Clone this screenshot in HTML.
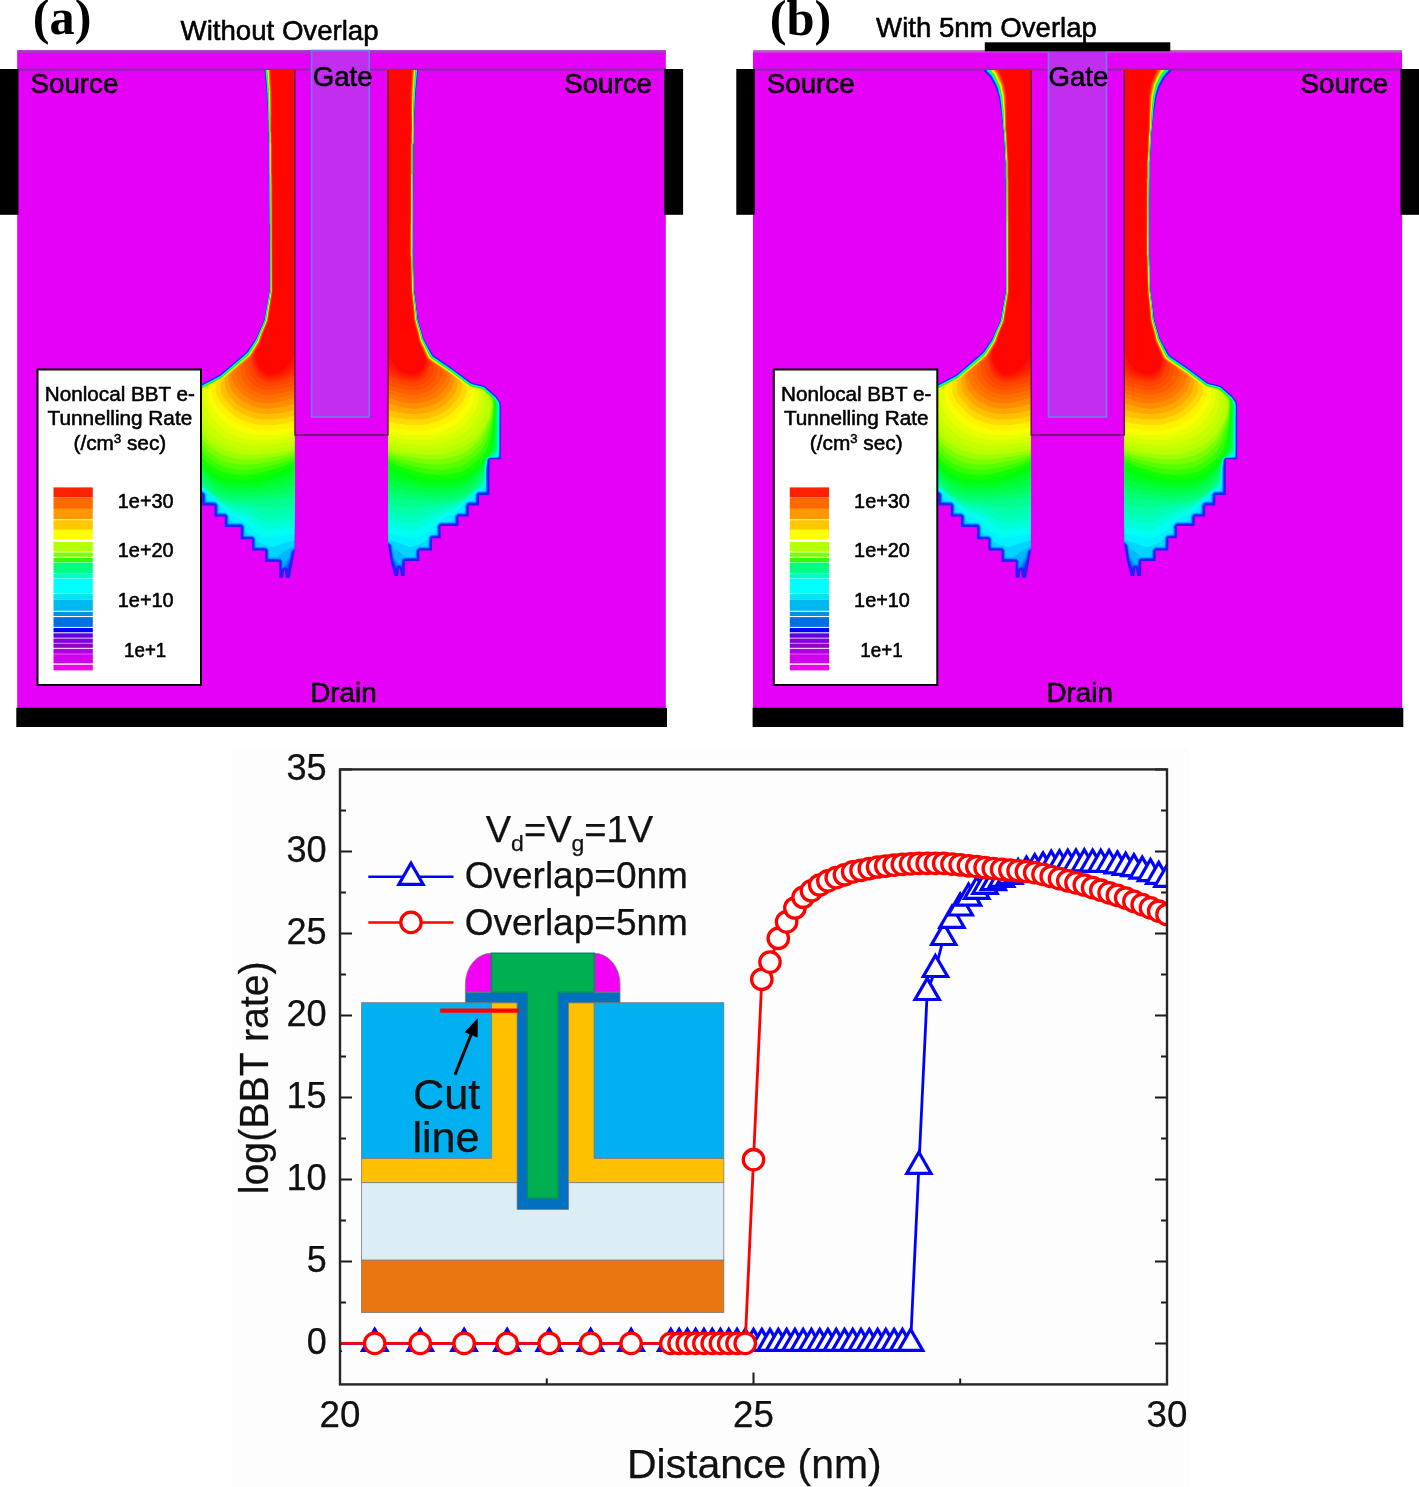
<!DOCTYPE html>
<html lang="en"><head><meta charset="utf-8"><title>BBT tunnelling rate</title>
<style>html,body{margin:0;padding:0;background:#fff}svg{display:block}</style></head><body>
<svg width="1419" height="1487" viewBox="0 0 1419 1487">
<rect width="1419" height="1487" fill="#fff"/>
<defs>
<linearGradient id="cbar" x1="0" y1="0" x2="0" y2="1">
<stop offset="0" stop-color="#FF1A00"/>
<stop offset="0.06" stop-color="#FF3000"/>
<stop offset="0.14" stop-color="#FF8000"/>
<stop offset="0.22" stop-color="#FFC000"/>
<stop offset="0.28" stop-color="#FFF000"/>
<stop offset="0.33" stop-color="#D8FF00"/>
<stop offset="0.38" stop-color="#80FF00"/>
<stop offset="0.43" stop-color="#20FF20"/>
<stop offset="0.48" stop-color="#00FF80"/>
<stop offset="0.55" stop-color="#00FFD8"/>
<stop offset="0.62" stop-color="#00F0FF"/>
<stop offset="0.68" stop-color="#00B0F0"/>
<stop offset="0.73" stop-color="#1080E0"/>
<stop offset="0.78" stop-color="#0020FF"/>
<stop offset="0.82" stop-color="#6010E0"/>
<stop offset="0.87" stop-color="#A010D0"/>
<stop offset="0.92" stop-color="#D020F0"/>
<stop offset="0.97" stop-color="#F020F8"/>
<stop offset="1" stop-color="#FF40E0"/>
</linearGradient>
<pattern id="dither" width="4" height="4" patternUnits="userSpaceOnUse"><rect width="4" height="4" fill="#C62CF2"/><rect width="2" height="2" fill="#BE30EE"/><rect x="2" y="2" width="2" height="2" fill="#BE30EE"/></pattern>
<g id="plumeaR">
<path fill="#2020FF" d="M387.8,70.4L418,70.4L416,90L414.3,115L413.5,150L412.5,250L414,290L418,320L423.6,338.8L433,355L452.8,368.8L471.6,382.8L484.8,386L496,396L500.3,402L500.8,406L500.8,459.3L489.5,459.3L489.5,495L479,495L479,505.4L468.8,505.4L468.8,516.6L458.4,516.6L458.4,526L440.6,526L440.6,538.3L432,538.3L432,550.5L419.3,550.5L419.3,560.9L404.8,560.9L404.8,576L401,576L399.5,567L398,576L394.5,576L390.7,560.9L388.2,545.8Z"/>
<path fill="#0857FF" d="M417.3,70.3L387.7,70.3L388.3,543.7L389.3,544L390.7,546L392.7,559.7L394,564.3L396,569L397,567L398.3,566L400.3,566L401.7,567.3L402.3,567.3L402.7,560.7L403.7,559.3L416.7,558.7L417.3,557.7L417.3,550.3L418.3,549L419,548.7L428.7,548.7L429.7,548L430,547.3L430,538L431.7,536.3L437.3,536.3L438.3,535.7L438.7,535L438.7,525.7L439.7,524.3L440.3,524L455,524L455.7,523.7L456.3,522.7L456.3,516.3L457.3,515L458,514.7L465.3,514.7L466.3,514L467,504.3L468.3,503.3L475.7,503.3L476.3,503L477,502L477,494.7L478,493.3L478.7,493L486,493L487,492.3L487.3,491.7L487.3,466.7L487.7,466.3L488,459.7L489.3,458.3L498.3,458.3L499.3,458L499.7,457.3L500,405.7L499.3,402L495.7,397L484.3,387L473.7,384.3L470.3,383L452.7,369.7L435,357.7L431.7,354.7L423,338.3L417.7,319.7L415.7,301.3L414,291L413,255.3L412.7,255L413.3,144.3L413.7,144L414.7,103L415,102.7L415.3,92.3L415.7,92L415.7,88L416,87.7Z"/>
<path fill="#0578FF" d="M417.3,70.3L387.7,70.3L388.3,543.3L389.7,543.7L391,545.7L393,558.7L394.7,563.3L396.3,566L398.7,565.3L402,566L402.3,560L404.7,558.3L416.3,558.3L416.7,558L416.7,551L418,548.7L419.7,548L429,548L429.3,547.7L429.7,537.7L430.7,536.3L432.3,535.7L437.7,535.7L438,535.3L438,526.3L439.3,524L441,523.3L455.3,523.3L455.7,523L455.7,517L457,514.7L458.7,514L465.7,514L466,513.7L466,505.7L466.7,504L469,502.7L476,502.7L476.3,502.3L476.3,495.3L477.7,493L479.3,492.3L486.3,492.3L486.7,492L486.7,469.7L487.7,459.7L489.3,458L498.3,458L499,457.7L499.7,451.3L499.7,405.3L499,402L495.3,397L484.3,387.3L483,386.7L472.7,384.3L470.3,383.3L452.7,370L432.3,356L423,339L417.7,320.7L414,291.3L413,255.3L412.7,255L413,175L413.3,174.7L413.3,144.3L413.7,144L414,120.3L414.3,120L414,112.7L414.3,112.3L414.7,101.7L415,101.3L415.3,88.7Z"/>
<path fill="#0299FF" d="M417,70.3L387.7,70.3L388.3,542.7L389.3,543L391.3,545.3L393,556.3L394.7,561L397.3,565L400.7,565.3L401.7,565L401.7,560.7L402.3,559.3L404.3,558L416,558L416.3,557.7L416.3,550.7L416.7,549.7L418.3,548L419.3,547.7L428.7,547.7L429,547.3L429.3,537.3L431,535.7L432,535.3L437.3,535.3L437.7,535L437.7,526L438,525L439.7,523.3L440.7,523L455,523L455.3,522.7L455.3,516.7L455.7,515.7L457.3,514L465.3,513.7L465.7,513.3L466,504.3L467.7,502.7L468.7,502.3L475.7,502.3L476,502L476,495L476.3,494L478,492.3L486,492L486.3,491.7L486.3,469.7L487.7,459L489.3,457.7L498.3,457.7L499,457L499.3,455.3L499.3,404.7L498.7,402L495.3,397.3L484,387.3L471,384L453.7,371L436,359L431.3,355L422.3,337.7L422.3,336.3L417.3,319.7L414,292L413,256.3L412.7,256L413,174L413.3,173.7L413.3,143.3L413.7,143L413.7,131.7L414,131.3L413.7,121.7L414,121.3L414,112L414.3,111.7L414.3,102.7L414.7,102.3L415,92L415.3,91.7L415.7,82.7Z"/>
<path fill="#00B8FF" d="M416.7,70.3L387.7,70.3L388.3,542.3L390,543L391.7,545.3L393,553L394.3,557.7L397.7,563L399.7,564.3L401,564.3L401.3,560L402.7,558.3L404,557.7L415.3,557.7L416,557L416,550.3L417.7,548L419.3,547.3L428.3,547.3L428.7,547L429,537.3L430.3,535.7L432,535L437,535L437.3,534.7L437.3,526.3L438.7,523.7L441,522.7L454.7,522.7L455,522.3L455,516.7L455.7,515L456.7,514L458.3,513.3L465,513.3L465.3,513L465.3,505.7L466.3,503.3L469,502L475.3,502L475.7,501.7L476,494L478,492L485.7,491.7L486,491.3L486,470.3L487.3,459.3L489,457.7L498.3,457.3L499,456L499.3,406L498.7,402.3L495.3,397.7L483.7,387.3L470.7,384L452,370L434.3,358L431.3,355.3L422.7,339L417.3,320.3L415.3,301.7L413.7,290.7L412.7,255L412.3,254.7L413,144.7L413.3,144.3L413.3,133L413.7,132.7L414,107.7L414.3,107.3L414.3,102L415,96L414.7,93.3L416.7,74Z"/>
<path fill="#00D5FF" d="M387.7,70.3L388.3,542L390.3,542.7L391.7,544L393.3,548.7L399.3,552L403.3,555.7L405,556.7L410,557L413.3,556.7L415,555.7L415.7,549.7L417.3,547.7L418.7,547L423,547L428,546.3L428.7,537L430.7,535L436.3,534.7L437,534L437,526L437.7,524.3L439,523L440.7,522.3L454,522.3L454.7,521.7L454.7,516.7L455.3,515L456.7,513.7L458.3,513L464.3,513L465,512.3L465,505.3L465.7,503.7L467,502.3L468.7,501.7L475,501.7L475.3,501.3L475.3,495L476,493.3L477.3,492L479,491.3L485.3,491.3L485.7,491L486,467.7L487,459.7L487.7,458.3L489.3,457.3L498,457L498.7,456L498.7,451.3L499,451L499,405L498.3,402L494.7,397L483.3,387.3L473,385L470.3,384L452.7,370.7L432.7,357L431.3,355.7L422,337.3L417,319L414.7,297L413.7,291.3L412.7,255.3L412.3,255L412.7,175L413,174.7L413,144.3L413.3,144L413.7,120.3L414,120L413.7,112.7L414.3,106.7L414.7,92.3L415,92L415,88L415.3,87.7L416.7,70.3Z"/>
<path fill="#00F1FF" d="M387.7,70.3L388.3,540.7L395.7,542L409.3,547L411.7,547L421,544L427.3,539.7L428,537L429.7,535L432,534L435,533.7L436.3,531.7L436.7,525.3L438.7,522.7L440.3,522L449.3,521.7L453,520.3L454,519L454.3,516L456.3,513.3L457.7,512.7L462.3,512.3L464,511.3L464.7,508L464.7,504.7L466.7,502L468.3,501.3L474.3,500.7L475,494.3L476.7,492L478.7,491L483.3,491L485,490.3L485.7,485.3L485.7,468.7L487,459.3L489,457.3L496.3,457L497.7,456.7L498.3,455.7L499,406.7L498.3,402.3L495,397.7L483.7,387.7L470.7,384.3L452.3,370.7L432,356.7L423.3,341L422,337.7L421.7,335.3L417,319.7L416.3,311.7L415,303.7L413.7,291.7L412.7,256L412.3,255.7L412.7,174.3L413,174L413,143.7L413.3,143.3L413.3,132L413.7,131.7L413.7,112L414,111.7L414,102.7L414.3,102.3L414.3,97L415,91.3L415,85.7L416.7,70.3Z"/>
<path fill="#00FFF2" d="M387.7,70.3L388.3,534L402.7,536.3L406.3,537.3L414.7,537.7L418.7,537L426,533L429.7,530.3L438.3,521.7L446.3,517L454.7,513.3L459.7,509L465,502.7L468,500.7L476.7,491.3L479,490.3L482.3,489.7L484.3,488.3L485.3,484.3L485.3,469.3L486.7,459.7L487.3,458.3L489.3,457L493.3,457L497.3,456L498.3,453L498.7,405L498.3,403L495.3,398.3L484.3,388.3L482.3,387.3L470.3,384.3L451.7,370.3L432.7,357.3L431,355.7L422,338L421.7,335.7L417,320.3L416.3,312.3L414.3,298.7L414.3,296L413.7,293L413.7,286.3L413.3,286L413.3,276.3L413,276L413,266.3L412.7,266L412.7,256.3L412.3,256L412.7,174L413,173.7L413,143.3L413.3,143L413.3,131.7L413.7,131.3L413.3,121.3L413.7,121L413.7,107.7L414,107.3L414,102L414.7,96L414.3,93L414.7,92.7L416.3,70.3Z"/>
<path fill="#00FFD9" d="M387.7,70.3L388.3,527L399.3,528.3L407.7,530L413,530.3L416.3,530L419,529L426.7,525L432.3,520.3L436.7,517.7L444.3,514L453.7,510.7L458.7,507L464.3,501.7L466,500.7L475.7,491.3L479,489.3L482,488.3L483.7,487L484.7,485L485,482.3L485,471L486.7,459.3L489,457L496,456L497,455L498,452.3L498.3,449.7L498.3,404L497.7,402L494.7,397.7L483.7,388L472.7,385.3L469.7,384L452.3,371L432,357L430.7,355.3L424.7,344L421.7,337.3L421.7,336L416.7,319L415.7,307.3L413.7,293.7L413.3,285L413,284.7L412.3,255L412,254.7L412.3,175.3L412.7,175L412.7,144.7L413,144.3L413.3,120.7L413.7,120.3L413.7,114L413.3,113.3L413.7,113L414,101L414.3,100.7L414,100.3L414.3,92.3L414.7,92L414.7,88L415,87.7L416.3,70.3Z"/>
<path fill="#00FFBF" d="M387.7,70.3L388.3,519.7L390.7,519.7L407,522.3L414,522.7L422,520L427.7,516.7L435.3,513.3L445.3,510L452,508.3L457.3,505.3L466,499.3L476.3,490L480.3,488L482.7,486L484,483.7L484.7,480.3L485,468.7L486.3,459.7L487,458.3L488.7,457L493.3,456.3L496,455L497.7,451.7L498,449.7L498.3,405.7L498,403L495,398.3L484.3,388.7L481.3,387.3L472.3,385.3L470,384.3L452.7,371.3L432.7,357.7L430.7,355.7L421.7,337.7L421.7,336.3L417,321L415.3,308.3L415,302.3L413.3,291L412.3,255.3L412,255L412.3,175L412.7,174.7L412.7,144.3L413,144L413.3,120.3L413.7,120L413.3,112.7L414,106.3L413.7,103L414,102.7L414.3,92L415,87L415,82L416.3,70.3Z"/>
<path fill="#00FFA6" d="M387.7,70.3L388.3,512L406,514.7L412.3,515L419,513.7L424,511.7L434,509L449.7,506L455.7,503.7L461.7,500.7L469,496L475.3,490L479.3,487.3L482,484.7L484.3,478.7L484.7,469.3L486.3,459.3L487.7,457.3L489,456.7L492,456.3L495,454.7L496.3,453.3L497.3,451L497.7,449L497.7,428L498,427.7L498,405L497.7,402.7L494.3,397.7L483.7,388.3L471.7,385.3L469.7,384.3L452,371L432,357.3L429.3,353.3L421.7,338L420.7,333L417,321.3L414.7,303.3L414.3,297.3L413.3,291.3L412.3,255.7L412,255.3L412.3,174.7L412.7,174.3L412.7,144L413,143.7L413,132.3L413.3,132L413.3,112L413.7,111.7L414.3,89L415.7,77.7L416,70.3Z"/>
<path fill="#00FF8D" d="M387.7,70.3L388.3,504.7L404.3,507L411.3,507.3L411.7,507L419.3,506.7L436,504.3L442,504L444,503.3L447.7,503.3L455.7,501.3L462,499L468.7,495.3L480.3,484.7L482.7,480.7L484.3,475.7L484.3,470L486,459.7L488,457L491,456.3L494.7,454L496,452.7L497,450.3L497.3,428L497.7,427.7L497.7,404.3L497.3,402.7L494.7,398.3L484.3,389L481.7,387.7L471.3,385.3L470,384.7L451.3,370.7L432.3,357.7L430.7,356L421.7,338.3L420.7,333.3L416.7,320.3L416,312L414,298.3L414,295.3L413.3,292L413.3,286L413,285.7L413,276L412.7,275.7L412.7,266L412.3,265.7L412.3,256L412,255.7L412.3,174.3L412.7,174L412.7,143.7L413,143.3L413.3,111.7L413.7,111.3L413.3,107.7L414,101.7L414,92.7L414.3,92.3L414.3,88.3L414.7,88L416,70.3Z"/>
<path fill="#00FF73" d="M387.7,70.3L388.3,497.3L407.3,500L414.3,500L418.3,500.7L441,500.7L441.3,500.3L450.7,500L458.3,498.7L463,497L468.3,494.3L477.7,486L480.3,482.3L483.7,475.7L484.7,466L485.7,460.7L486.7,458L487.7,457L491.3,455.7L494.3,453.3L496.3,450.3L496.7,443.3L497,443L497.3,403.7L496.7,401.7L494,397.7L483.3,388.3L470.3,385L452,371.3L431.7,357.3L430.3,355.7L421.7,338.7L420.7,333.7L419.7,331.3L416.3,318.7L415.3,307L413.3,293L412.3,256.3L412,256L412.3,174L412.7,173.7L412.7,143.3L413,143L413,131.7L413.3,131.3L413,121L413.3,120.7L413.3,107.3L414,100.7L413.7,97.7L414,97.3L414.3,87.7L416,70.3Z"/>
<path fill="#00FF5A" d="M387.7,70.3L388.3,491L396,493L402,493.7L406,494.7L418.3,495.7L420.7,496.3L440.3,496.7L440.7,496.3L448,496.3L455.3,495.3L461.7,493.7L467,491.3L476,483.7L480.7,477.3L483,473L485.7,459.7L486.3,458.3L488.3,456.3L490.3,455.7L494.3,452L495.3,450.3L496,447.3L496.3,434.7L496.7,434.3L496.7,418.7L497,418.3L496.7,402.3L494.3,398.3L484,389L482,388L471.7,385.7L469.7,384.7L452.3,371.7L432.3,358L430,355.3L421.3,337.7L420.7,334L416.7,321L414.7,302L413.3,293.7L413,284.7L412.7,284.3L412,254.7L411.7,254.3L412,175.7L412.3,175.3L412.3,145L412.7,144.7L413,120.7L413.3,120.3L413,113L413.7,106.7L413.7,97.3L414,97L414.3,86.7L416,70.3Z"/>
<path fill="#00FF40" d="M387.7,70.3L388.3,485L398.3,487.7L408,489.3L409.7,490L415,490.3L421,491.7L431,492L431.3,492.3L445.7,492.3L454.3,491.3L460,490L465,488L471.7,483.3L477,478L481,472.3L483.3,467.3L486,458.3L491,454L494,450L494.7,447.7L495.7,439L496.3,403L493.7,397.7L483.3,388.7L471.3,385.7L469.3,384.7L451.7,371.3L431.3,357.3L429,353.7L421.3,338L420.3,333L416.3,319.7L415.7,311.3L415,308.7L414.7,302.3L413,291L412,255.3L411.7,255L412,175L412.3,174.7L412.3,144.3L412.7,144L413,120.3L413.3,120L413,112.3L413.3,112L414,89L414.3,88.7L415.7,70.3Z"/>
<path fill="#00FF26" d="M387.7,70.3L388.3,478.3L400.3,482.3L403,482.7L411,485L416.3,485.7L421.7,487L431.7,488L437,488L437.3,488.3L453.3,487.3L459.3,486L463.7,484.3L469.7,480.7L473.3,477.7L479,471.3L484.3,462.7L486,458L489,455.3L493,449L494.3,441.7L494.7,434L495,433.7L495.3,419.3L495.7,419L495.7,402.3L493.7,398L483.7,389L482.3,388.3L472,386L469.7,385L451,371L432,358L430.3,356.3L421.3,338.3L420.3,333.3L416.3,320L416.3,317.3L414.3,303.3L414.3,300.3L413,291.3L412,255.7L411.7,255.3L412,174.7L412.3,174.3L412.3,144L412.7,143.7L413,119.7L413.3,119.3L413,118.7L413,112L413.3,111.7L413.3,102L414,95.7L413.7,92.7L414,92.3L414,88.3L414.3,88L415.7,70.3Z"/>
<path fill="#00FF0D" d="M387.7,70.3L388.3,471.3L402,477L405.7,477.7L413.3,480.3L416.3,480.7L424,482.7L437,484L445,484L445.3,483.7L452.3,483.3L458.7,482L465.3,479.3L472,475L479.3,467.7L484.7,460.7L485.7,458L488.7,454.7L492,447.7L493.7,438.7L493.7,434.3L494.3,431.7L494.3,426.3L494.7,426L494.7,419.3L495,419L495,408.3L495.3,408L495,401.3L493.7,398.3L484.3,389.7L482,388.3L470,385.3L451.3,371.3L431.3,357.7L430,356L421.3,338.7L420.3,333.7L418,326.7L416,318.3L415.7,312.3L413,291.7L412,255.7L411.7,255.3L412,174.7L412.3,174.3L412.3,144L412.7,143.7L413,111.3L413.3,111L413,107.7L413.7,101.3L413.3,99L413.7,92.3L414,92L414.7,78.7L415.7,70.3Z"/>
<path fill="#12FF00" d="M387.7,70.3L388.3,464.7L403.3,471.7L407.3,472.7L416,476L422.7,477.3L423.7,478L431.3,479.3L434.7,479.3L438.7,480L451.3,479.3L461.7,477L471.3,472L476.7,467.7L480.3,464L481.7,462L483.7,460.3L487.3,455L491,446L492.7,437.7L492.7,434L493.3,431.7L493.3,427L494.3,419L494.3,408.7L494.7,408.3L494.3,400.7L493,397.7L482.7,388.7L472.3,386.3L469.3,385L452,372L431.7,358L429.7,355.7L421,337.7L420,332.7L419,330.3L416,319L415,307L413.7,298.7L413,292L413,286L412.7,285.7L412.7,276L412.3,275.7L412.3,266L412,265.7L412,256L411.7,255.7L412,174.3L412.3,174L412.3,143.7L412.7,143.3L412.7,132L413,131.7L413,122.3L412.7,121.3L413,121L413.3,97.3L413.7,97L414,85.7L415.3,74L415.3,70.3Z"/>
<path fill="#35FF00" d="M387.7,70.3L388.3,461.3L391.3,462.3L398,465.7L405.7,468.3L413.7,470.3L416.7,471.7L418.3,471.7L426,473.7L439,475L451.7,474L461,471.7L468.3,468L477,461.3L481.3,457L484.7,452.7L487.7,446.3L490.7,436.7L491,433L492,430L492,427L492.7,425L493.7,416L493.7,409.7L494.3,406.3L493.7,399.7L492.7,397.7L483,389L472,386.3L469,385L451.3,371.7L431,357.7L427.3,351.3L421,338L420,333L419,330.7L416,319.3L415,307.7L413,293.3L412,256.7L411.7,256.3L412,173.7L412.3,173.3L412.3,143L412.7,142.7L412.7,131.3L413,131L413,124L412.7,123.7L413,114.3L412.7,112.7L413.3,106.3L413,102.7L413.7,96.7L413.7,88.7L414,88.3L415.3,70.3Z"/>
<path fill="#58FF00" d="M387.7,70.3L388.3,458.3L392,459.3L398,462L405.7,464.3L410,465L416.7,467L423.3,468.3L434.3,469.7L443,469.7L449,469L457.7,467L466,463.3L474.7,457L480,452L481.7,449.7L485.7,442.3L487.7,437.3L491.3,424L492.7,416.7L493,410.3L493.7,407.3L493.3,401L492.3,397.7L483.7,389.7L481.7,388.7L472.7,386.7L469.3,385.3L451.7,372L431.7,358.3L430,356.7L421,338.3L420,333.3L416.3,321.3L414.7,308.7L414.7,305.3L412.7,290.7L411.7,254.7L411.3,254.3L411.7,175.7L412,175.3L412,145L412.3,144.7L412.7,120.3L413,120L412.7,112.3L413,112L413,102L413.7,95.7L413.3,92.7L413.7,92.3L413.7,88L414,87.7L414.7,75L415.3,70.3Z"/>
<path fill="#7BFF00" d="M387.7,70.3L388.3,455.3L405.3,460.3L426,464L441,464.7L443.7,464L448.3,463.7L456.7,461.7L463.7,458.7L472.7,452.7L479.3,446L483,440.3L486,434.3L491,419.7L493,407.7L492.7,400.3L491.7,397.3L483,389.3L469.7,385.7L452.3,372.7L431,358L429.7,356.3L421,338.7L420,333.7L416.3,321.7L414.7,309L414,300L412.7,291L411.7,255.3L411.3,255L411.7,175L412,174.7L412,144.3L412.3,144L412.7,120L413,119.7L412.7,112L413,111.7L413.3,92L413.7,91.7L414,82.3L415.3,70.3Z"/>
<path fill="#9EFF00" d="M387.7,70.3L388.3,452.3L402.7,456L409,456.7L411.3,457.3L414.3,457.3L420.7,458.7L423.3,458.7L426.3,459.3L434.7,459.3L435,459.7L441.3,459.3L449.7,458L459.3,455L464.7,452.3L470.3,448.7L477.7,442L483.7,433.3L490,419L492,409.7L492.3,402.7L491,397L482.7,389.3L471.7,386.7L469.3,385.7L451.7,372.3L431.7,358.7L429.7,356.7L421,339L419.7,332.7L418.7,330.3L415.7,318.7L415.7,315.3L412.7,291.3L411.7,255.7L411.3,255.3L411.7,174.7L412,174.3L412,144L412.3,143.7L412.7,111L413,110.7L412.7,107.3L413,107L413.7,85.3L414,85L415,70.3Z"/>
<path fill="#B8FF00" d="M387.7,70.3L388.3,449.3L397.7,451.7L406.7,453L415.3,453.3L417.7,454L421.3,454L425.3,454.7L438,454.7L448,453L452.3,451.3L457,450.3L463.7,447.3L473.3,441L478.7,435.7L481,432.7L487.3,421.3L489,417.7L491,409.3L491.3,402.3L490,396.7L482.7,389.7L469.7,386L451,372L431,358.3L429.3,356.3L420.7,338.3L419.7,333L416,321L414.7,307L413.7,301.3L412.7,291.7L412.7,286L412.3,285.7L412.3,276L412,275.7L412,266L411.7,265.7L411.7,256L411.3,255.7L411.7,174.3L412,174L412,143.7L412.3,143.3L412.3,132L412.7,131.7L412.7,106.7L413,106.3L412.7,103L413.3,96.3L413.3,88.3L413.7,88L415,70.3Z"/>
<path fill="#C8FF00" d="M387.7,70.3L388,426.7L388.3,427L388.3,445L391.3,446L394.7,446.3L400,447.7L407.7,448.7L417.3,449L427,450L436,449.7L446.7,447.7L455,445L461.3,442L470.3,436L474.3,432L478,427.3L484.3,416.3L487.3,406.3L487.3,399.7L486.3,394L482.7,390L469.3,386L451.7,372.7L431.7,359L429.7,357L420.7,338.7L419.7,333.3L416,321.3L415,314L414.7,307.7L412.7,292.3L411.7,256.3L411.3,256L411.7,174L412,173.7L412,143.3L412.3,143L412.3,131.7L412.7,131.3L412.7,123L412.3,122.7L412.7,114.3L412.3,112.7L412.7,112.3L413,92.7L413.3,92.3L414,78.3L415,70.3Z"/>
<path fill="#D8FF00" d="M387.7,70.3L388,426.7L388.3,427L388.3,440.7L399.7,443L407.3,444L417.7,444.3L418,444.7L427,444.7L427.3,445L435.7,444.3L446,442L449,440.7L452,440L459.3,436.3L467,431L472.7,424.7L479,415L481.3,409.3L482.7,405L482.7,401.7L483,401.3L482.3,391.3L481.3,390L479,389L469.7,386.3L451,372.3L431,358.7L429.7,357.3L420.7,339L419.7,333.7L416,321.7L414.3,308.7L414,302.3L412.7,293.7L411.7,256.7L411.3,256.3L411.7,173.7L412,173.3L412,143L412.3,142.7L412.3,131.3L412.7,131L412.3,112L412.7,111.7L413,92L413.3,91.7L414.7,70.3Z"/>
<path fill="#E7FF00" d="M387.7,70.3L388,426.7L388.3,427L388.3,436L395,437.7L406,439.3L418.3,439.7L418.7,440L431,439.7L441,437.7L449,435L455.7,431.7L462.3,427L468.3,420.7L474.3,412.3L476,409L478.3,401.7L478.7,392L478.3,390L477.3,389L468.7,386L451.7,373L430.3,358.3L420.7,339.3L420,335.3L418.7,331.7L415.3,318.3L415,312L414.3,309.3L413.7,300L412.3,291L411.3,255L411,254.7L411.7,144.7L412,144.3L412.3,120L412.7,119.7L412.3,107.3L412.7,107L412.7,97L413.3,90.7L413,89L413.3,88.7L414,75.3L414.7,70.3Z"/>
<path fill="#F7FF00" d="M387.7,70.3L388,426.7L388.3,427L388.3,431.7L394,433L405.3,434.7L418.7,435L419,435.3L426.7,435L434.3,433.7L445.3,430.3L452.7,426.7L458.7,422.3L462.3,418.7L468.3,411.3L470.7,408L472.7,404L474.7,397.7L475,394.3L474.7,389L468.3,386L450,372L431,359L429.3,357.3L420.3,338.7L419,332L418,329.7L415.3,319L415,312.7L412.3,291.3L411.3,255.3L411,255L411.3,175L411.7,174.7L411.7,144.3L412,144L412,132.7L412.3,132.3L412.3,106.7L412.7,106.3L412.3,102.7L412.7,102.3L412.7,96.3L413,96L412.7,93L413.7,83.7L414.3,70.3Z"/>
<path fill="#FFF200" d="M387.7,70.3L388,426.7L389,427.3L390.3,427.3L394.7,428.7L406.7,430.3L411,430.3L411.3,430.7L424.7,430.3L429,429.7L431.3,428.7L434,428.3L435,427.7L437.7,427.3L440,426L443.7,425L446,423.3L449.7,421.7L455,417.7L460.3,412.3L466.3,405.3L468,402.7L471,395.7L471.3,388.7L471,388L467.3,385.7L450.7,372.7L433,360.7L429.3,357.7L420.7,340L419.3,333.7L416.3,324L415.3,319.7L414.3,307.3L412.3,291.7L411.3,255.7L411,255.3L411.3,174.7L411.7,174.3L411.7,144L412,143.7L412,132.3L412.3,132L412.3,113.7L412,112.7L412.3,112.3L412.7,92L413,91.7L413.3,81.3L413.7,81L414.3,70.3Z"/>
<path fill="#FFD900" d="M387.7,70.3L388,421.3L393,422.3L394.3,423L407.7,425L412,425L412.3,425.3L423.3,425L436,422L437.7,421L440.3,420.3L446,417.3L451.7,413.3L457,408L461.7,402.7L463.7,399.7L466.3,393.3L466.7,387.3L466.3,385.7L458.3,378.7L429.3,358L420.7,340.3L419.3,334L415.3,320.3L415.3,317.3L414.7,314.3L413.7,302L412.3,292.3L411.3,256L411,255.7L411.3,174.3L411.7,174L411.7,143.7L412,143.3L412,132L412.3,131.7L412,112L412.3,111.7L412.3,97L413,90.7L412.7,88.7L413,88.3L413.7,74.7L414.3,70.3Z"/>
<path fill="#FFC000" d="M387.7,70.3L388,415.7L396.7,417.7L407,419.3L420,419.7L426.7,418.7L435,416.3L444,412L448.7,408.7L457.7,399L459.7,396L461.7,391L462,383.3L461.7,382.3L457,378L450,372.7L432.3,360.7L428.7,357.3L420.7,340.7L418.7,332L415.3,320.7L413.7,306L413.7,302.7L412.3,293.7L411.3,256.7L411,256.3L411.3,173.7L411.7,173.3L411.7,143L412,142.7L412,131.3L412.3,131L412,107L412.3,106.7L412.3,96.3L412.7,96L412.3,92.7L412.7,92.3L414,70.3Z"/>
<path fill="#FFA600" d="M387.7,70.3L388,409.7L397,412L406.3,413.7L413,414L413.3,414.3L420.7,414L426.3,413L435.7,410L440.3,407.7L446,403.7L453.7,395.3L456,391.7L457.3,386L457.7,379.7L451.3,374L430.7,359.7L428.7,357.7L420.7,341L419.7,338L419,333.7L415.3,321.3L414,307L413.3,304L413,297.3L412,291L411,255L410.7,254.7L411,175.3L411.3,175L411.3,144.7L411.7,144.3L411.7,133L412,132.7L412,101.7L412.3,101.3L412.7,85L413,84.7L413.3,75L414,70.3Z"/>
<path fill="#FF8D00" d="M387.7,70.3L388,403.7L392.7,404.7L396,406L408,408.3L412,408.3L412.3,408.7L421,408.3L430.7,406L438.3,402.3L443,399L451,389.7L452.3,386.7L453.7,381.7L454,377.3L450,373.3L431.7,360.7L428.3,357.7L420,339.7L418.7,333L415.3,321.7L412,291.7L411,255.7L410.7,255.3L411,174.7L411.3,174.3L411.3,144L411.7,143.7L411.7,132.3L412,132L411.7,112.3L412,112L412.3,88L413,83.7L413.7,70.3Z"/>
<path fill="#FF7900" d="M387.7,70.3L388,398L394.3,399.3L397.3,400.7L400.7,401L403.3,402L409,403L413,403L413.3,403.3L419.7,403L428.3,401L436,397.3L439,395.3L447.7,385.7L450,379.7L450.7,375L446.7,371.3L430.3,360L428.3,358L420.3,341L414.7,318.3L413.7,305.3L412,292L411,256L410.7,255.7L411,174.3L411.3,174L411.3,143.7L411.7,143.3L411.7,132L412,131.7L412,122.3L411.7,122L412,120.7L412,116L411.7,115.7L412,103.7L411.7,102.3L412,102L412,92L412.7,86.3L412.3,85.7L412.7,85.3L413,75.3L413.7,70.3Z"/>
<path fill="#FF6C00" d="M387.7,70.3L388,394L390,394L396.3,395.7L397.3,396.3L410.7,399L417.3,399L427,396.7L432.7,394L437.3,390.7L444,382.7L445.7,378.3L446.7,373.7L446.3,372.3L443.7,369.7L430,360L428,358L419.7,339.7L418.3,332.7L415,321.3L414.3,316.3L414.3,312.7L412,293.7L411,256.3L410.7,256L411,174L411.3,173.7L411.3,143.3L411.7,143L411.7,131.7L412,131.3L412,124L411.7,123.7L411.7,120L412,119.7L411.7,101.3L412,99.7L411.7,97.3L412,97L412,88.3L412.7,83.7L413.3,70.3Z"/>
<path fill="#FF5E00" d="M387.7,70.3L388,389.7L389.7,389.7L399.7,392.7L407.7,394.3L417.3,394.7L425,392.7L430.3,390L434,387.3L440,380L441.7,375.3L442,370L439,366.7L430,360.3L428,358.3L420,341L418,332L414.7,320.3L413.7,307.3L412.7,301L412.7,297.3L411.7,291L410.7,255L410.3,254.7L410.7,175.3L411,175L411,144.7L411.3,144.3L411.3,133L411.7,132.7L411.7,113.7L411.3,113.3L411.7,112L411.7,96L412,95.7L411.7,92.3L412.3,86.7L412.7,75L413.3,70.3Z"/>
<path fill="#FF5000" d="M387.7,70.3L388,385L399.3,388.3L407,390L417,390.3L421,389.3L427,386.7L432.3,382.3L435.7,378L436.7,375.7L437.7,370.3L437.7,366.7L427.7,358.3L419.7,340.7L419,336.7L414.3,319L414.3,315.3L411.7,291.7L410.7,255.7L410.3,255.3L410.3,224.7L410.7,224.3L411,144L411.3,143.7L411.3,132.3L411.7,132L411.7,115.7L411.3,115.3L411.7,98.7L411.3,97.7L411.7,97.3L411.7,90.7L412,90.3L411.7,88.3L412.3,83.7L413,70.3Z"/>
<path fill="#FF4300" d="M387.7,70.3L388,380.3L397.7,383.7L408.3,386L416.7,386L420,385L425.3,382.3L429.3,378.7L432,374.7L433.7,368.3L434,364.7L427.3,358.3L419.3,340.3L418.7,336L414.3,320L413,303L411.7,292.7L410.7,256.3L410.3,256L410.3,224L410.7,223.7L411,143.3L411.3,143L411.3,131.7L411.7,131.3L411.7,123.3L411.3,123L411.7,120L411.3,96.3L411.7,94.3L411.3,92.3L411.7,92L412.7,70.3Z"/>
<path fill="#FF3600" d="M387.7,70.3L388,376L392.3,377.3L394.7,378.7L403,381L410,382.3L414.3,382.3L418,381.3L422,379.3L425.7,376.3L428,373L430.3,366.3L431,363L430.7,362L427.3,358.7L419,339.7L418.3,335.3L414.3,320.7L413.3,307.7L412.3,301L412.3,297.3L411.3,290.7L411.7,287.3L411.3,287L411.3,277.3L411,277L411,267.3L410.7,267L410.7,257.3L410.3,257L410.7,173L411,172.7L411,142.3L411.3,142L411.3,130.7L411.7,130.3L411.3,114.7L411,114.3L411.3,111.3L411,109L411.3,98.3L411,97.7L411.3,97.3L411.3,88L412,83.3L412,77.3L412.3,77L412.7,70.3Z"/>
<path fill="#FF2A00" d="M387.7,70.3L388,372.7L393.7,375L396.3,376.7L401.3,378.3L408.7,380L415.3,380L421.3,377.3L424.3,374.7L426.3,372L429.3,364L429.3,361.3L427.7,359.7L425.7,356L418.7,339.3L418,334.7L414,319.7L413.7,312.7L411.3,292L410.3,255.7L410,255.3L410,224.7L410.3,224.3L410.7,144L411,143.7L411,132.3L411.3,132L411.3,121.7L411,121.3L411.3,120.7L411.3,116.7L411,116.3L411,96L411.3,94.7L411,92L411.3,91.7L411.3,84.7L412,79.7L412.3,70.3Z"/>
<path fill="#FF1E00" d="M387.7,70.3L388,368.7L396,373.7L401,376L408.7,378L415,378L420.3,375.7L424.7,371.3L427.3,365.7L428.3,361.3L425.7,356.7L419.7,343L418.3,339L417.7,334L414,321L412,297.3L411.3,294L410.3,256.7L410,256.3L410,223.7L410.3,223.3L410.7,143L411,142.7L411,131.3L411.3,131L411,114.3L410.7,114L411,111.3L410.7,97L411,96.7L411,87.3L411.3,87L412,70.3Z"/>
<path fill="#FF1200" d="M387.7,70.3L388,363.7L397.7,371.7L402.7,374.3L408.7,376L415,376L419.3,374L423.7,369.7L426.7,363.3L427,360L419,342L417.3,333.7L414,322L411,292L410,255.7L409.7,255.3L409.7,224.7L410,224.3L410.3,144L410.7,143.7L410.7,132.3L411,132L411,122L410.7,121.7L411,120.3L410.7,90.7L411,90L410.7,88L411,87.7L411.7,70.7L412,70.3Z"/>
<path fill="#FF0600" d="M387.7,70.3L388,356.3L389.7,358L393.7,364L398,368.7L401,371L404.3,372.7L408.7,374L414.7,374L418.7,372L422,369L425,363.7L426,359.3L418,340L417,333.7L413.7,322L412,302.3L411.3,299L411.3,295.3L410.7,291.7L409.7,255.3L409.3,255L409.3,225L409.7,224.7L410,144.3L410.3,144L410.3,132.7L410.7,132.3L410.7,116.7L410.3,116.3L410.3,90.7L410.7,90L410.3,88L410.7,87.7L410.7,81.7L411.3,76.7L411.3,70.3Z"/>
</g>
<g id="plumeaL">
<path fill="#2020FF" d="M387.8,70.4L418,70.4L416,90L414.3,115L413.5,150L412.5,250L412.6,290L418.3,320L426.7,338.8L436.1,352L449.3,363.3L462.5,374.6L480.4,384L490,389L497,396L500.5,402L500.8,406L500.8,459.3L490,459.3L490,495L480.4,495L480.4,505.4L468.1,505.4L468.1,516.6L457.8,516.6L457.8,527L441.8,527L441.8,539.2L430.5,539.2L430.5,550.5L417.3,550.5L417.3,561.8L403.2,561.8L403.2,577.8L399.6,577.8L398.1,569L396.6,577.8L392.9,577.8L390,562.8L388.2,552Z"/>
<path fill="#0857FF" d="M417.3,70.3L387.7,70.3L388.3,550L389.3,550.3L390.7,552.3L391.7,559L394.3,568L395.3,568.7L397.7,567.7L399,568L400.3,569.3L401,569.3L401.3,567.7L401.3,561.3L402.3,560L414.7,559.3L415.3,558.3L415.3,550.3L416.3,549L428,548.3L428.7,547.3L428.7,539L429,538.3L430.3,537.3L438.3,537.3L439.3,536.7L439.7,536L439.7,526.7L440.7,525.3L441.3,525L454.3,525L455,524.7L455.7,523.7L455.7,516.3L456,515.7L457.3,514.7L464.7,514.7L465.7,514L466,513.3L466,505L467,503.7L477.7,503L478.3,502L478.3,494.7L478.7,494L480,493L486.7,493L487.7,492.3L488,491.7L488,466.7L488.3,466.3L488.7,459.7L490,458.3L498.3,458.3L499.3,458L499.7,457.3L500,403.3L499.3,401.3L496.7,397L489,389.3L462.3,375.7L440.7,357.3L434.7,351.7L426.7,339.7L418.7,321.7L417.7,318.3L416.7,310.7L412.7,290.7L413.3,144.3L413.7,144L414.7,103L415,102.7L415.3,92.3L415.7,92L415.7,88L416,87.7Z"/>
<path fill="#0578FF" d="M417.3,70.3L387.7,70.3L388.3,549.3L389.3,549.7L390.7,551L391.3,553L391.7,556.7L395,565.3L395.7,566.3L399.7,568L400.7,568L400.7,561.7L401,560.7L402.3,559.3L403.3,559L414.3,559L414.7,558.7L414.7,551L416,548.7L417.7,548L427.7,548L428,547.7L428,539.7L429.3,537.3L431,536.7L438.7,536.7L439,536.3L439,527.3L440.3,525L442,524.3L454.7,524.3L455,524L455,517L455.7,515.3L458,514L465,514L465.3,513.7L465.3,505.7L466.7,503.3L468.3,502.7L477.3,502.7L477.7,502.3L477.7,495.3L478.3,493.7L480.7,492.3L487,492.3L487.3,492L487.3,469.7L488.3,459.7L490,458L498.3,458L499,457.7L499.7,451.3L499.7,403L496.3,397L489,389.7L462.3,376L438,355.3L434.3,351.7L426,339L417.7,319.3L417.3,315.7L412.7,291L413,175L413.3,174.7L413.3,144.3L413.7,144L414,120.3L414.3,120L414,112.7L414.3,112.3L414.7,101.7L415,101.3L415.3,88.7Z"/>
<path fill="#0299FF" d="M417,70.3L387.7,70.3L388.3,549L390.7,550.3L391.7,552.7L392.3,557L396,564L398,566.3L399.7,567.3L400.3,567L400.3,561.3L401.7,559.3L403,558.7L414,558.7L414.3,558.3L414.3,550.7L414.7,549.7L416.3,548L417.3,547.7L427.3,547.7L427.7,547.3L427.7,539.3L428,538.3L429.7,536.7L438.3,536.3L438.7,536L438.7,527L439,526L440.7,524.3L441.7,524L454.3,524L454.7,523.7L455,515.7L456.7,514L457.7,513.7L464.7,513.7L465,513.3L465,505.3L465.3,504.3L467,502.7L477,502.3L477.3,502L477.7,494L479.3,492.3L480.3,492L486.7,492L487,491.7L487,469.7L488.3,459L490,457.7L498.3,457.7L499,457L499.3,455.3L499.3,402.7L496,397L489,390L462,376L437.7,355.3L434.3,352L426,339.3L417.7,320L417.3,316.3L416.3,312.7L416.3,310.7L412.7,291.7L412.7,224L413,223.7L413.3,143.3L413.7,143L413.7,131.7L414,131.3L413.7,121.7L414,121.3L414,112L414.3,111.7L414.3,102.7L414.7,102.3L415,92L415.3,91.7L415.7,82.7Z"/>
<path fill="#00B8FF" d="M416.7,70.3L387.7,70.3L388.3,548.7L390.3,549.3L391.7,551L393.3,556.7L395,558.3L399,565L399.3,565L399.7,561.3L401.7,558.7L402.7,558.3L413.3,558.3L414,557.7L414,550.3L415.7,548L417.3,547.3L427,547.3L427.3,547L427.3,539.3L428,537.7L429,536.7L430.7,536L438,536L438.3,535.7L438.3,527L439,525.3L440,524.3L441.7,523.7L454,523.7L454.3,523.3L454.3,516.7L455,515L456.7,513.7L458,513.3L464.3,513.3L464.7,513L464.7,505.7L466,503L468.3,502L476.7,502L477,501.7L477,495L477.7,493.3L478.7,492.3L480.7,491.7L486.3,491.7L486.7,491.3L486.7,470.3L488,459.3L489.7,457.7L498.3,457.3L499,456L499.3,405L499,402.3L496,397.3L488.7,390L461.7,376L434.7,352.7L426,339.7L417.3,319L417,315.3L412.3,290.3L413,144.7L413.3,144.3L413.3,133L413.7,132.7L414,107.7L414.3,107.3L414.3,102L415,96L414.7,93.3L416.7,74Z"/>
<path fill="#00D5FF" d="M387.7,70.3L388.3,547L391.3,547.7L396.7,550.3L400.7,553L405,557L411.7,557.3L413,556.7L413.7,550L415.3,547.7L416.7,547L426.3,546.7L427,544L427.3,538L429.3,536L430.3,535.7L437,535.7L437.7,535.3L438,534.7L438,527L438.7,525.3L440,524L441.7,523.3L453,523.3L453.7,523L454,516.7L454.7,515L456,513.7L457.7,513L464,513L464.3,512.7L464.3,505.3L465,503.7L466.3,502.3L468,501.7L476,501.7L476.7,501L476.7,495L477.3,493.3L478.7,492L480.3,491.3L485.7,491.3L486.3,490.7L486.7,467.7L487.7,459.7L488.3,458.3L490,457.3L498,457L498.7,456L498.7,451.3L499,451L499,402.7L495.7,397L489.3,390.7L462.3,376.7L434.7,353L426.7,341L417.7,320.7L413,293L412.3,291L413,144.3L413.3,144L413.7,120.3L414,120L413.7,112.7L414.3,106.7L414.3,97.7L414.7,97.3L414.7,92.3L415,92L415,88L415.3,87.7L416.7,70.3Z"/>
<path fill="#00F1FF" d="M387.7,70.3L388.3,540.7L395.7,542L409.3,547L411.7,547L421,544L426,540.7L426.3,538.7L428.3,536L430.7,535L434,534.7L435,534L437,531.7L438,525.3L439.7,523.7L441,523L447.7,522.7L450,522L452.3,520.7L453.3,519.3L453.7,516L455.7,513.3L457,512.7L463.3,512L464,508.7L464,505L465.7,502.3L467.7,501.3L471,501.3L475,500.3L476,498L476.3,494.3L478.3,491.7L480,491L485,490.7L485.7,490L486.3,483.7L486.3,468.7L487.7,459.3L489.3,457.3L496.3,457L497.7,456.7L498.3,455.7L499,406.3L498.7,406L498.7,402.3L496.3,398.3L488.7,390.3L461.7,376.3L440.3,358.3L434,352.3L426.3,340.7L417.3,320L416,310.7L413.7,299.3L413.7,297.3L413,295.3L413,293.3L412.3,291.3L412.3,224.3L412.7,224L413,143.7L413.3,143.3L413.3,132L413.7,131.7L414,102.7L414.3,102.3L414.3,97L415,91.3L415,85.7L416.7,70.3Z"/>
<path fill="#00FFF2" d="M387.7,70.3L388.3,534L402.7,536.3L406.3,537.3L414.7,537.7L418.7,537L426,533L429.7,530.3L437.3,522.7L440,520.7L446.3,517L454,513.7L459.7,509L462,506.7L464.3,503L465.7,501.7L468.3,500.3L476.3,492L479.3,490.3L482.3,489.7L484.7,488L485.7,485.7L486,469.3L487.7,458.7L489,457.3L490,457L493.3,457L497.3,456L498.3,453L498.7,403L494.7,396.3L489.7,391.3L462.3,377L434.3,353L426,340.3L417.7,321.3L412.3,291.7L412.3,224L412.7,223.7L413,143.3L413.3,143L413.3,131.7L413.7,131.3L413.3,121.3L413.7,121L413.7,107.7L414,107.3L414,102L414.7,96L414.3,93L414.7,92.7L416.3,70.3Z"/>
<path fill="#00FFD9" d="M387.7,70.3L388.3,527L399.3,528.3L407.7,530L413,530.3L416.3,530L419,529L426.7,525L432.3,520.3L436.7,517.7L444.3,514L453.7,510.7L458.7,507L464.3,501.7L466,500.7L475.7,491.3L479,489.3L482,488.3L483.7,487L485.3,483.3L485.7,470.7L487.3,459L489.3,457L496,456L497,455L498,452.3L498.3,449.7L498.3,402.7L495.3,397.3L488.7,390.7L461.7,376.7L440.3,358.7L434,352.7L425.7,340L417.3,320.7L412,290.3L412.7,144.7L413,144.3L413.3,120.7L413.7,120.3L413.7,114L413.3,113.3L413.7,113L414,101L414.3,100.7L414,98L414.3,97.7L414.3,92.3L414.7,92L414.7,88L415,87.7L416.3,70.3Z"/>
<path fill="#00FFBF" d="M387.7,70.3L388.3,519.7L390.7,519.7L407,522.3L414,522.7L422,520L427.7,516.7L435.3,513.3L445.3,510L452,508.3L457.3,505.3L466,499.3L476.3,490L480.3,488L482.7,486L484,483.7L485,480L485.7,474.3L485.7,468.3L487.3,458.7L489,457L493.3,456.3L496,455L497.7,451.7L498,449.7L498.3,404.3L498,402.3L495.7,398L488,390.3L461,376.3L434.3,353.3L426,340.7L417,319.7L412,290.7L412.7,144.3L413,144L413.3,120.3L413.7,120L413.3,112.7L414,106.3L413.7,103L414,102.7L414.3,92L415,87L415,82L416.3,70.3Z"/>
<path fill="#00FFA6" d="M387.7,70.3L388.3,512L406,514.7L412.3,515L419,513.7L424,511.7L434,509L449.7,506L455.7,503.7L461.7,500.7L469,496L475.3,490L479.3,487.3L482,484.7L483.3,482L485.3,474.7L485.3,469.3L487,459.3L487.7,458L489.3,456.7L492,456.3L495,454.7L496.3,453.3L497.3,451L497.7,449L497.7,428L498,427.7L498,403L495,397.3L488.3,390.7L461.7,377L440,358.7L433.7,352.7L425.7,340.3L417,320L412,291L412,224.7L412.3,224.3L412.7,144L413,143.7L413,132.3L413.3,132L413.7,102.3L414,102L414.3,89L415.7,77.7L416,70.3Z"/>
<path fill="#00FF8D" d="M387.7,70.3L388.3,504.7L404.3,507L411.3,507.3L411.7,507L419.3,506.7L436,504.3L442,504L444,503.3L447.7,503.3L455.7,501.3L462,499L468.7,495.3L480.3,484.7L482.7,480.7L484.7,475.3L485,469.7L487,458.7L489,456.7L491,456.3L494.7,454L496,452.7L497,450.3L497.3,428L497.7,427.7L497.7,402.7L495.3,398L488,390.7L462,377.3L434,353.3L426,341L417,320.3L412,291.3L412,224.3L412.3,224L412.7,143.7L413,143.3L413,132L413.3,131.7L413.3,111.7L413.7,111.3L413.3,107.7L414,101.7L414,92.7L414.3,92.3L414.3,88.3L414.7,88L416,70.3Z"/>
<path fill="#00FF73" d="M387.7,70.3L388.3,497.3L407.3,500L414.3,500L418.3,500.7L441,500.7L441.3,500.3L450.7,500L458.3,498.7L463,497L468.3,494.3L477.7,486L480.3,482.3L484,475L484.7,472.3L485,467.3L487,458.3L488.7,456.7L491.3,455.7L494.3,453.3L496.3,450.3L496.7,443.3L497,443L497.3,403L494.7,397.3L488.3,391L461.3,377L440,359L433.7,353L425.7,340.7L417,320.7L412,291.7L412,224L412.3,223.7L412.7,143.3L413,143L413,131.7L413.3,131.3L413,121L413.3,120.7L413.3,107.3L414,100.7L413.7,97.7L414,97.3L414.3,87.7L416,70.3Z"/>
<path fill="#00FF5A" d="M387.7,70.3L388.3,491L396,493L402,493.7L406,494.7L418.3,495.7L420.7,496.3L440.3,496.7L440.7,496.3L448,496.3L455.3,495.3L461.7,493.7L467,491.3L476,483.7L480.7,477.3L483,473L486.7,458.7L488.3,456.7L490.3,455.7L493.3,453L495.3,450.3L496,447.3L496.3,434.7L496.7,434.3L496.7,418.7L497,418.3L496.7,401.7L494.7,397.7L489,391.7L460.7,376.7L434,353.7L425.3,340.3L417,320.7L411.7,290L412.3,145L412.7,144.7L412.7,133.3L413,133L413,120.7L413.3,120.3L413,113L413.7,106.7L413.7,97.3L414,97L415,78L416,70.3Z"/>
<path fill="#00FF40" d="M387.7,70.3L388.3,485L398.3,487.7L408,489.3L409.7,490L415,490.3L421,491.7L431,492L431.3,492.3L445.7,492.3L454.3,491.3L460,490L465,488L471.7,483.3L477,478L481.3,471.7L484,466L486.7,458.3L491,454L494,450L494.7,447.7L495.7,439L496.3,402.7L496,400.7L494.7,398L488,391L461.3,377.3L439.7,359L433.7,353.3L425.7,341L417,321L411.7,290.7L412.3,144.3L412.7,144L413,120.3L413.3,120L413.3,116.7L413,116.3L413.3,102.3L413.7,102L414,89L414.3,88.7L415.7,70.3Z"/>
<path fill="#00FF26" d="M387.7,70.3L388.3,478.3L400.3,482.3L403,482.7L411,485L416.3,485.7L421.7,487L431.7,488L437,488L437.3,488.3L453.3,487.3L459.3,486L463.7,484.3L469.7,480.7L473.3,477.7L479,471.3L485,461.7L486.3,458.3L489.3,455L493,449L494.3,441.7L494.7,434L495,433.7L495.3,419.3L495.7,419L495.7,401.7L494,397.3L489,392L461.7,377.7L434,354L425.3,340.7L418.3,323.7L417,321.3L414,305L414,303L413.3,301L413,297L412.3,295L412.3,293L411.7,291L411.7,224.7L412,224.3L412.3,144L412.7,143.7L413,119.7L413.3,119.3L413,118.7L413.3,102L414,95.7L413.7,92.7L414,92.3L414,88.3L414.3,88L415.7,70.3Z"/>
<path fill="#00FF0D" d="M387.7,70.3L388.3,471.3L402,477L405.7,477.7L413.3,480.3L416.3,480.7L424,482.7L437,484L445,484L445.3,483.7L452.3,483.3L458.7,482L465.3,479.3L472,475L479.3,467.7L488.7,454.7L492,447.7L493.7,438.7L493.7,434.3L494.3,431.7L494.3,426.3L494.7,426L494.7,419.3L495,419L495,408.3L495.3,408L495,401L493.7,397.3L488,391.3L461,377.3L439.3,359L433.3,353.3L425.7,341.3L416.7,320.3L412.3,295.3L412.3,293.3L411.7,291.3L411.7,224.7L412,224.3L412.3,144L412.7,143.7L412.7,132.3L413,132L413,111.3L413.3,111L413,107.7L413.7,101.3L413.3,98L413.7,97.7L414,87.7L415.7,70.3Z"/>
<path fill="#12FF00" d="M387.7,70.3L388.3,464.7L403.3,471.7L407.3,472.7L416,476L422.7,477.3L423.7,478L431.3,479.3L434.7,479.3L438.7,480L451.3,479.3L461.7,477L471.3,472L476.7,467.7L480.3,464L486.7,456.3L491,446L492.7,437.7L492.7,434L493.3,431.7L493.3,427L494.3,419L494.3,408.7L494.7,408.3L494.3,400.3L494,398.7L492.7,396.3L487.7,391.3L461.3,377.7L434,354.3L425.3,341L416.7,320.7L411.7,291.7L411.7,224.3L412,224L412.3,143.7L412.7,143.3L412.7,132L413,131.7L413,122.3L412.7,121.3L413,121L413.3,97.3L413.7,97L414,85.7L415.3,74L415.3,70.3Z"/>
<path fill="#35FF00" d="M387.7,70.3L388.3,461.3L391.3,462.3L398,465.7L405.7,468.3L413.7,470.3L416.7,471.7L418.3,471.7L426,473.7L439,475L451.7,474L461,471.7L468.3,468L477,461.3L481.3,457L484.7,452.7L487.7,446.3L490.7,436.7L491,433L492,430L492,427L492.7,425L493.7,416L493.7,409.7L494.3,406.3L494,401.7L492.7,396.7L488,391.7L461,377.7L439.3,359.3L433.3,353.7L425,340.7L421.7,332L416.7,321L411.7,292L412,173.7L412.3,173.3L412.3,143L412.7,142.7L412.7,131.3L413,131L413,124L412.7,123.7L413,114.3L412.7,112.7L413.3,106.3L413,102.7L413.7,96.7L413.7,88.7L414,88.3L415.3,70.3Z"/>
<path fill="#58FF00" d="M387.7,70.3L388.3,458.3L392,459.3L398,462L405.7,464.3L410,465L416.7,467L423.3,468.3L434.3,469.7L443,469.7L449,469L457.7,467L466,463.3L474.7,457L480,452L481.7,449.7L485.7,442.3L487.7,437.3L491.3,424L492.7,416.7L493,410.3L493.7,407.3L493.3,401L492.7,397.7L491.7,395.7L487.7,391.7L461.3,378L434,354.7L425.3,341.3L416.3,320L411.3,290.3L412,145L412.3,144.7L412.7,120.3L413,120L413,116.3L412.7,116L413,102L413.7,95.7L413.3,92.7L413.7,92.3L413.7,88L414,87.7L414.7,75L415.3,70.3Z"/>
<path fill="#7BFF00" d="M387.7,70.3L388.3,455.3L405.3,460.3L426,464L441,464.7L443.7,464L448.3,463.7L456.7,461.7L463.7,458.7L472.7,452.7L479.3,446L483,440.3L486,434.3L491,419.7L493,407.7L492.7,400.3L491.3,395.7L487.3,391.7L460.7,377.7L439,359.3L433.3,354L425,341L416.3,320.3L411.3,290.7L412,144.3L412.3,144L412.7,120L413,119.7L412.7,112L413,111.7L413.3,92L413.7,91.7L414,82.3L415.3,70.3Z"/>
<path fill="#9EFF00" d="M387.7,70.3L388.3,452.3L402.7,456L409,456.7L411.3,457.3L414.3,457.3L420.7,458.7L423.3,458.7L426.3,459.3L434.7,459.3L435,459.7L441.3,459.3L449.7,458L459.3,455L464.7,452.3L470.3,448.7L477.7,442L483.7,433.3L490,419L492,409.7L492.3,402.7L491,396L487,391.7L461,378L433.7,354.7L425.3,341.7L416.3,320.7L411.3,291L411.3,224.7L411.7,224.3L412,144L412.3,143.7L412.3,132.3L412.7,132L413,97.3L413.3,97L413.7,85.3L414,85L415,70.3Z"/>
<path fill="#B8FF00" d="M387.7,70.3L388,431.3L388.3,431.7L388.3,449.3L397.7,451.7L406.7,453L415.3,453.3L417.7,454L421.3,454L425.3,454.7L438,454.7L448,453L452.3,451.3L457,450.3L463.7,447.3L473.3,441L478.7,435.7L481,432.7L487.3,421.3L489,417.7L491,409.3L491.3,402.3L490,395.7L487,392L460.7,378L439,359.7L433,354L425,341.3L416.3,321L411.3,291.3L411.7,174.3L412,174L412,143.7L412.3,143.3L412.3,132L412.7,131.7L412.7,106.7L413,106.3L412.7,103L413.3,96.3L413.3,88.3L413.7,88L415,70.3Z"/>
<path fill="#C8FF00" d="M387.7,70.3L388,431.3L388.3,431.7L388.3,445L391.3,446L394.7,446.3L400,447.7L407.7,448.7L417.3,449L427,450L436,449.7L446.7,447.7L455,445L461.3,442L470.3,436L474.3,432L478,427.3L484.3,416.3L487.3,406.3L487.3,399.7L486.7,397.3L486.7,394.7L486,392.3L477,386.7L460,377.7L433.3,354.7L424.7,341L416,320L415.7,316L415,314L414.7,310L411.3,291.7L411.7,174L412,173.7L412,143.3L412.3,143L412.3,131.7L412.7,131.3L412.7,123L412.3,122.7L412.7,114.3L412.3,112.7L412.7,112.3L413,92.7L413.3,92.3L414,78.3L415,70.3Z"/>
<path fill="#D8FF00" d="M387.7,70.3L388,431.3L388.3,431.7L388.3,440.7L399.7,443L407.3,444L417.7,444.3L418,444.7L427,444.7L427.3,445L435.7,444.3L446,442L449,440.7L452,440L459.3,436.3L467,431L472.7,424.7L479,415L481.3,409.3L482.7,405L482.7,401.7L483,401.3L482.3,391.3L480.7,389.3L477,387L460.7,378.3L436.7,358L432.7,354L425.3,342.3L423.3,338.3L421.7,333.3L416,320.3L411.3,292L411.7,173.7L412,173.3L412,143L412.3,142.7L412.3,131.3L412.7,131L412.3,112L412.7,111.7L413,92L413.3,91.7L414.7,70.3Z"/>
<path fill="#E7FF00" d="M387.7,70.3L388,431.3L388.3,431.7L388.3,436L395,437.7L406,439.3L418.3,439.7L418.7,440L431,439.7L441,437.7L449,435L455.7,431.7L462.3,427L468.3,420.7L474.3,412.3L476,409L478.3,401.7L478.7,392L478.3,389.3L476.3,387L460.3,378.3L433,354.7L425,342L416,320.7L411,290.7L411.7,144.7L412,144.3L412.3,120L412.7,119.7L412.3,117.7L412.7,97L413,96.7L413,91L413.3,90.7L413,89L413.3,88.7L414,75.3L414.7,70.3Z"/>
<path fill="#F7FF00" d="M387.7,70.3L388,431.3L394,433L405.3,434.7L418.7,435L419,435.3L426.7,435L434.3,433.7L445.3,430.3L452.7,426.7L458.7,422.3L462.3,418.7L468.3,411.3L470.7,408L472.7,404L474.7,397.7L475,394.3L474.7,387.3L474,386.3L470.7,384L459.7,378L433.3,355.3L424.7,341.7L416,321L411,291L411.7,144.3L412,144L412,132.7L412.3,132.3L412.3,106.7L412.7,106.3L412.3,102.7L413,96L412.7,93L413.7,83.7L414.3,70.3Z"/>
<path fill="#FFF200" d="M387.7,70.3L388,427L394.7,428.7L406.7,430.3L411,430.3L411.3,430.7L424.7,430.3L429,429.7L431.3,428.7L434,428.3L435,427.7L437.7,427.3L440,426L443.7,425L446,423.3L449.7,421.7L455,417.7L460.3,412.3L466.3,405.3L468,402.7L471,395.7L471.3,387.7L470.7,385.3L469.7,384L460.7,379L436.3,358.3L432.3,354.3L423.7,340L422.3,335.7L416,321.3L411,291.3L411.3,174.7L411.7,174.3L411.7,144L412,143.7L412,132.3L412.3,132L412.3,113.7L412,112.7L412.3,112.3L412.7,92L413,91.7L413.3,81.3L413.7,81L414.3,70.3Z"/>
<path fill="#FFD900" d="M387.7,70.3L388,421.3L393,422.3L394.3,423L407.7,425L412,425L412.3,425.3L423.3,425L436,422L437.7,421L440.3,420.3L446,417.3L451.7,413.3L461.7,402.7L465.7,395.7L466.7,391.7L466.3,383.7L465.3,382L459,378L438.3,360.3L432.3,354.7L423.7,340.3L422.3,336L415.7,320.3L411,291.7L411.3,174.3L411.7,174L411.7,143.7L412,143.3L412,132L412.3,131.7L412,112L412.3,111.7L412.3,97L413,90.7L412.7,88.7L413,88.3L413.7,74.7L414.3,70.3Z"/>
<path fill="#FFC000" d="M387.7,70.3L388,415.7L396.7,417.7L407,419.3L420,419.7L426.7,418.7L435,416.3L444,412L448.7,408.7L457.7,399L461,393.3L461.7,391L461.7,386.7L462,386.3L461.7,382L462,381.3L456.7,376L432.7,355.3L423.7,340.7L422.3,336.3L419.7,330.7L415.3,319.3L414.3,311L411,292.3L411.3,173.7L411.7,173.3L411.7,143L412,142.7L412,131.3L412.3,131L412,107L412.3,106.7L412.3,96.3L412.7,96L412.3,92.7L412.7,92.3L414,70.3Z"/>
<path fill="#FFA600" d="M387.7,70.3L388,409.7L397,412L406.3,413.7L413,414L413.3,414.3L420.7,414L426.3,413L435.7,410L440.3,407.7L446,403.7L453.7,395.3L456,391.7L457.3,386L458,378.7L454.7,374.7L434,357L431.7,354.3L423.7,341L421.7,335L419.7,331L415.3,319.7L410.7,290.7L411.3,144.7L411.7,144.3L411.7,133L412,132.7L412.3,91.7L412.7,91.3L412.7,85L413,84.7L413.3,75L414,70.3Z"/>
<path fill="#FF8D00" d="M387.7,70.3L388,403.7L392.7,404.7L396,406L408,408.3L412,408.3L412.3,408.7L421,408.3L430.7,406L438.3,402.3L443,399L449.7,391.7L451.7,388.3L453.7,381.7L454.3,375.7L449.3,370.3L433.7,357L431.7,354.7L423.7,341.3L421.7,335.3L415.3,320.3L410.7,291L411,174.7L411.3,174.3L411.3,144L411.7,143.7L411.7,132.3L412,132L411.7,112.3L412,112L412.3,88L413,83.7L413.7,70.3Z"/>
<path fill="#FF7900" d="M387.7,70.3L388,398L394.3,399.3L397.3,400.7L400.7,401L403.3,402L409,403L413,403L413.3,403.3L419.7,403L428.3,401L436,397.3L439,395.3L447.7,385.7L450,379.7L451,375.7L451,373.3L444.7,366.7L433,356.7L430.3,353L423.3,341L421.7,335.7L415.3,320.7L410.7,291.7L411,174.3L411.3,174L411.3,143.7L411.7,143.3L411.7,132L412,131.7L412,122.3L411.7,122L412,120.7L412,116L411.7,115.7L412,103.7L411.7,102.3L412,102L412,92L412.7,86.3L412.3,85.7L412.7,85.3L413,75.3L413.7,70.3Z"/>
<path fill="#FF6C00" d="M387.7,70.3L388,394L390,394L396.3,395.7L397.3,396.3L410.7,399L417.3,399L427,396.7L432.7,394L437.3,390.7L444,382.7L445.7,378.3L446.7,373.7L446.3,373.3L446.3,370L445.7,368.7L442.7,365.3L432.7,356.7L430.7,354L423.3,341.3L420.3,332.7L415.3,321.3L410.7,292L411,174L411.3,173.7L411.3,143.3L411.7,143L411.7,131.7L412,131.3L412,124L411.7,123.7L411.7,120L412,119.7L411.7,101.3L412,99.7L411.7,97.3L412,97L412,88.3L412.7,83.7L413.3,70.3Z"/>
<path fill="#FF5E00" d="M387.7,70.3L388,389.7L389.7,389.7L399.7,392.7L407.7,394.3L417.3,394.7L425,392.7L430.3,390L434,387.3L437.3,383.7L440,380L441.7,375.3L442,366.3L441,364.7L432,356.3L423,341L421.3,335.7L415.3,321.7L410.3,290.7L410.7,175.3L411,175L411,144.7L411.3,144.3L411.3,133L411.7,132.7L411.7,113.7L411.3,112.3L411.7,112L411.7,96L412,95.7L411.7,92.3L412.3,86.7L412.7,75L413.3,70.3Z"/>
<path fill="#FF5000" d="M387.7,70.3L388,385L399.3,388.3L407,390L417,390.3L421,389.3L427,386.7L430.3,384.3L435.7,378L437,374.7L438,367.3L438,363L431.7,356.3L424,343.3L422,339L420,332.7L415.3,322L410.3,291.3L410.7,174.7L411,174.3L411,144L411.3,143.7L411.3,132.3L411.7,132L411.7,115.7L411.3,115.3L411.7,98.7L411.3,97.7L411.7,97.3L411.7,90.7L412,90.3L411.7,88.3L412.3,83.7L413,70.3Z"/>
<path fill="#FF4300" d="M387.7,70.3L388,380.3L397.7,383.7L408.3,386L416.7,386L420,385L425.3,382.3L429.3,378.7L432,374.7L433.7,368.3L434.3,364.3L434.3,360L431,356L424,343.7L415.3,322.3L414.3,318.3L414.3,316L410.3,292L410.7,174L411,173.7L411,143.3L411.3,143L411.3,131.7L411.7,131.3L411.7,123.3L411.3,123L411.7,120L411.3,96.3L411.7,94.3L411.3,92.3L411.7,92L412.7,70.3Z"/>
<path fill="#FF3600" d="M387.7,70.3L388,376L392.3,377.3L394.7,378.7L403,381L410,382.3L414.3,382.3L418,381.3L423,378.7L425.7,376.3L428,373L430.7,365L431.3,357.7L428.3,351.3L422.7,341.7L419.7,332.7L414.7,321L410.3,292.7L410.7,173L411,172.7L411,142.3L411.3,142L411.3,130.7L411.7,130.3L411.3,114.7L411,114.3L411.3,111.3L411,109L411.3,98.3L411,97.7L411.3,97.3L411.3,88L412,83.3L412,77.3L412.3,77L412.7,70.3Z"/>
<path fill="#FF2A00" d="M387.7,70.3L388,372.7L393.7,375L396.3,376.7L401.3,378.3L408.7,380L415.3,380L421.3,377.3L424.3,374.7L426.3,372L429.3,364L430,359.7L430,356L427.7,350.7L422.3,341.3L420,334L414.7,321.3L410.7,296L410.7,293.7L410,291.3L410.3,174.7L410.7,174.3L410.7,144L411,143.7L411,132.3L411.3,132L411.3,121.7L411,121.3L411.3,120.7L411.3,116.7L411,116.3L411,96L411.3,94.7L411,92L411.3,91.7L411.3,84.7L412,79.7L412.3,70.3Z"/>
<path fill="#FF1E00" d="M387.7,70.3L388,368.7L396,373.7L401,376L408.7,378L415,378L420.3,375.7L424.7,371.3L428,363.7L429,355.3L428,352L422.3,342L419.7,333.7L414.3,321L410,292.3L410.3,173.7L410.7,173.3L410.7,143L411,142.7L411,131.3L411.3,131L411,114.3L410.7,114L411,111.3L410.7,97L411,96.7L411,87.3L411.3,87L412,70.3Z"/>
<path fill="#FF1200" d="M387.7,70.3L388,363.7L397.7,371.7L402.7,374.3L408.7,376L415,376L419.3,374L423.7,369.7L427,362L427.7,358L427.7,352.7L426,348.7L422.3,342.7L419.7,334.3L414.3,321.7L409.7,291.3L410,174.7L410.3,174.3L410.3,144L410.7,143.7L410.7,132.3L411,132L411,122L410.7,121.7L411,120.3L410.7,90.7L411,90L410.7,88L411,87.7L411.7,70.7L412,70.3Z"/>
<path fill="#FF0600" d="M387.7,70.3L388,356.3L389.7,358L393.7,364L398,368.7L401,371L404.3,372.7L408.7,374L414.7,374L417.7,372.7L422,369L423.7,366.3L425.7,361.7L426.7,355.3L426.7,352L426,349.7L421.7,342L419.3,334.3L414,321.7L409.3,291L409.7,175L410,174.7L410,144.3L410.3,144L410.3,132.7L410.7,132.3L410.7,116.7L410.3,116.3L410.3,90.7L410.7,90L410.3,88L410.7,87.7L410.7,81.7L411.3,76.7L411.3,70.3Z"/>
</g>
<g id="plumebR">
<path fill="#2020FF" d="M387.8,70.2L435.8,70.2L429,77L423.5,86.5L420,97L418,109.8L414.9,133L413.3,164L413,195L412.5,250L414,290L418,320L423.6,338.8L433,355L452.8,368.8L471.6,382.8L484.8,386L496,396L500.3,402L500.8,406L500.8,459.3L489.5,459.3L489.5,495L479,495L479,505.4L468.8,505.4L468.8,516.6L458.4,516.6L458.4,526L440.6,526L440.6,538.3L432,538.3L432,550.5L419.3,550.5L419.3,560.9L404.8,560.9L404.8,576L401,576L399.5,567L398,576L394.5,576L390.7,560.9L388.2,545.8Z"/>
<path fill="#0857FF" d="M433.3,70.3L387.7,70.3L388.3,543.7L389.3,544L390.7,546L392.7,559.7L394,564.3L396,569L397,567L398.3,566L400.3,566L401.7,567.3L402.3,567.3L402.7,560.7L403.7,559.3L416.7,558.7L417.3,557.7L417.3,550.3L418.3,549L419,548.7L428.7,548.7L429.7,548L430,547.3L430,538L431.7,536.3L437.3,536.3L438.3,535.7L438.7,535L438.7,525.7L439.7,524.3L440.3,524L455,524L455.7,523.7L456.3,522.7L456.3,516.3L457.3,515L458,514.7L465.3,514.7L466.3,514L467,504.3L468.3,503.3L475.7,503.3L476.3,503L477,502L477,494.7L478,493.3L478.7,493L486,493L487,492.3L487.3,491.7L487.3,466.7L487.7,466.3L488,459.7L489.3,458.3L498.3,458.3L499.3,458L499.7,457.3L500,405.7L499.3,402L495.7,397L484.3,387L473.7,384.3L470.3,383L452.7,369.7L435,357.7L431.7,354.7L423,338.3L417.7,319.7L415.7,301.3L414,291L413,255.3L412.7,255L413,179.7L413.3,179.3L413.3,161L414,154.7L414.7,136.3L418.3,101.7L419.3,95.7L420.3,93.3L421,89.7L422,86.7L427.3,76.7Z"/>
<path fill="#0578FF" d="M433,70.3L387.7,70.3L388.3,543.3L389.7,543.7L391,545.7L393,558.7L394.7,563.3L396.3,566L398.7,565.3L402,566L402.3,560L404.7,558.3L416.3,558.3L416.7,558L416.7,551L418,548.7L419.7,548L429,548L429.3,547.7L429.7,537.7L430.7,536.3L432.3,535.7L437.7,535.7L438,535.3L438,526.3L439.3,524L441,523.3L455.3,523.3L455.7,523L455.7,517L457,514.7L458.7,514L465.7,514L466,513.7L466,505.7L466.7,504L469,502.7L476,502.7L476.3,502.3L476.3,495.3L477.7,493L479.3,492.3L486.3,492.3L486.7,492L486.7,469.7L487.7,459.7L489.3,458L498.3,458L499.3,457L499.7,405.3L499,402L495.3,397L484.3,387.3L483,386.7L472.7,384.3L470.3,383.3L452.7,370L432,355.7L423,339L417.3,319L415.7,302.3L414,291.3L413,255.7L412.7,255.3L413,179.3L413.3,179L413.3,160.7L414,154.3L414.7,136L418,102.3L420.3,91L421.7,86.7L427.3,76Z"/>
<path fill="#0299FF" d="M432.3,70.3L387.7,70.3L388.3,542.7L389.3,543L391.3,545.3L393,556.3L394.7,561L397.3,565L400.7,565.3L401.7,565L401.7,560.7L402.3,559.3L404.3,558L416,558L416.3,557.7L416.3,550.7L416.7,549.7L418.3,548L419.3,547.7L428.7,547.7L429,547.3L429.3,537.3L431,535.7L432,535.3L437.3,535.3L437.7,535L437.7,526L438,525L439.7,523.3L440.7,523L455,523L455.3,522.7L455.3,516.7L455.7,515.7L457.3,514L465.3,513.7L465.7,513.3L466,504.3L467.7,502.7L468.7,502.3L475.7,502.3L476,502L476,495L476.3,494L478,492.3L486,492L486.3,491.7L486.3,469.7L487.7,459L489.3,457.7L498.3,457.7L499,457L499.3,455.3L499.3,404.7L498.7,402L495.3,397.3L484,387.3L471,384L453.7,371L436,359L431.3,355L422.3,337.7L422.3,336.3L417.3,319.7L414,292L413,256.3L412.7,256L413,178L413.3,177.7L413,162.3L413.3,162L414.3,137.3L416,122.7L416,119L416.7,115.7L417,108.7L419,95L421.7,86L427,76Z"/>
<path fill="#00B8FF" d="M432,70.3L387.7,70.3L388.3,542.3L390,543L391.7,545.3L393,553L394.3,557.7L397.7,563L399.7,564.3L401,564.3L401.3,560L402.7,558.3L404,557.7L415.3,557.7L416,557L416,550.3L417.7,548L419.3,547.3L428.3,547.3L428.7,547L429,537.3L430.3,535.7L432,535L437,535L437.3,534.7L437.3,526.3L438.7,523.7L441,522.7L454.7,522.7L455,522.3L455,516.7L455.7,515L456.7,514L458.3,513.3L465,513.3L465.3,513L465.3,505.7L466.3,503.3L469,502L475.3,502L475.7,501.7L476,494L478,492L485.7,491.7L486,491.3L486,470.3L487.3,459.3L489,457.7L498.3,457.3L499,456L499.3,406L498.7,402.3L495.3,397.7L483.7,387.3L470.7,384L452,370L434.3,358L431.3,355.3L422.7,339L417,318.7L415.3,301.7L413.7,290.7L412.7,255L412.3,254.7L412.7,179.7L413,179.3L413,161L413.7,154.7L414.3,136.3L415.7,125L415.7,121L416.3,118L416.7,110.7L419,94.3L421.3,86.3L426.3,76.7Z"/>
<path fill="#00D5FF" d="M387.7,70.3L388.3,542L390.3,542.7L391.7,544L393.3,548.7L399.3,552L403.3,555.7L405,556.7L410,557L413.3,556.7L415,555.7L415.7,549.7L417.3,547.7L418.7,547L423,547L428,546.3L428.7,537L430.7,535L436.3,534.7L437,534L437,526L437.7,524.3L439,523L440.7,522.3L454,522.3L454.7,521.7L454.7,516.7L455.3,515L456.7,513.7L458.3,513L464.3,513L465,512.3L465,505.3L465.7,503.7L467,502.3L468.7,501.7L475,501.7L475.3,501.3L475.3,495L476,493.3L477.3,492L479,491.3L485.3,491.3L485.7,491L486,467.7L487,459.7L487.7,458.3L489.3,457.3L498,457L498.7,456L498.7,451.3L499,451L499,405L498.3,402L494.7,397L483.3,387.3L473,385L470.3,384L452.7,370.7L432.7,357L431.3,355.7L422,337.3L417,319L414.7,297L413.7,291.3L413.7,285.3L413.3,285L412.7,255.7L412.3,255.3L413,160.7L413.3,160.3L414.7,131.3L415.3,128L415.3,123.7L416,120L416.7,109L418.3,96.3L420.7,87.7L422,84.3L427,75.3L431.7,70.3Z"/>
<path fill="#00F1FF" d="M387.7,70.3L388.3,540.7L395.7,542L409.3,547L411.7,547L421,544L427.3,539.7L428,537L429.7,535L432,534L435,533.7L436.3,531.7L436.7,525.3L438.7,522.7L440.3,522L449.3,521.7L453,520.3L454,519L454.3,516L456.3,513.3L457.7,512.7L462.3,512.3L464,511.3L464.7,508L464.7,504.7L466.7,502L468.3,501.3L474.3,500.7L475,494.3L476.7,492L478.7,491L483.3,491L485,490.3L485.7,485.3L485.7,468.7L487,459.3L489,457.3L496.3,457L497.7,456.7L498.3,455.7L499,406.7L498.3,402.3L495,397.7L483.7,387.7L470.7,384.3L452.3,370.7L432,356.7L423.3,341L422,337.7L421.7,335.3L417,319.7L413.7,291.7L413.7,286L413.3,285.7L413.3,276L413,275.7L413,266L412.7,265.7L412.7,256L412.3,255.7L413,160L413.3,159.7L415,126.7L416.3,115.3L416.3,111L418.3,95.7L421.3,85.3L427,75L431.7,70.3Z"/>
<path fill="#00FFF2" d="M387.7,70.3L388.3,534L402.7,536.3L406.3,537.3L414.7,537.7L418.7,537L426,533L429.7,530.3L438.3,521.7L446.3,517L454.7,513.3L459.7,509L465,502.7L468,500.7L476.7,491.3L479,490.3L482.3,489.7L484.3,488.3L485.3,484.3L485.3,469.3L486.7,459.7L487.3,458.3L489.3,457L493.3,457L497.3,456L498.3,453L498.7,405L498.3,403L495.3,398.3L484.3,388.3L482.3,387.3L470.3,384.3L451.7,370.3L432.7,357.3L431,355.7L422,338L421.7,335.7L417,320.3L416.3,312.3L413.7,293L412.7,256.7L412.3,256.3L412.7,161.3L413,161L414.3,132.3L415,129L416,113.7L418,96.7L420.3,87.7L423,81.7L426.3,75.7L431.3,70.3Z"/>
<path fill="#00FFD9" d="M387.7,70.3L388.3,527L399.3,528.3L407.7,530L413,530.3L416.3,530L419,529L426.7,525L432.3,520.3L436.7,517.7L444.3,514L453.7,510.7L458.7,507L464.3,501.7L466,500.7L475.7,491.3L479,489.3L482,488.3L483.7,487L484.7,485L485,482.3L485,471L486.7,459.3L489,457L496,456L497,455L498,452.3L498.3,449.7L498.3,404L497.7,402L494.7,397.7L483.7,388L472.7,385.3L469.7,384L452.3,371L432,357L430.7,355.3L424.7,344L421.7,337.3L421.7,336L416.7,319L415.7,307.3L413.3,290.7L413.3,285L413,284.7L413,275L412.7,274.7L412.7,265L412.3,264.7L412.3,255L412,254.7L412.7,161L413,160.7L414.3,132L415,128.7L416.3,109L418,96L421,85.3L426.3,75.3L431,70.3Z"/>
<path fill="#00FFBF" d="M387.7,70.3L388.3,519.7L390.7,519.7L407,522.3L414,522.7L422,520L427.7,516.7L435.3,513.3L445.3,510L452,508.3L457.3,505.3L466,499.3L476.3,490L480.3,488L482.7,486L484,483.7L484.7,480.3L485,468.7L486.3,459.7L487,458.3L488.7,457L493.3,456.3L496,455L497.7,451.7L498,449.7L498.3,405.7L498,403L495,398.3L484.3,388.7L481.3,387.3L472.3,385.3L470,384.3L452.7,371.3L432.7,357.7L430.7,355.7L421.7,337.7L421.7,336.3L416.7,319.3L415,302.3L413.3,291L413.3,285.3L413,285L413,275.3L412.7,275L412.7,265.3L412.3,265L412.3,255.3L412,255L412.7,160.7L413,160.3L414.3,131.7L415,128L416,111.7L417.7,97L421,85L425.7,76L430.7,70.3Z"/>
<path fill="#00FFA6" d="M387.7,70.3L388.3,512L406,514.7L412.3,515L419,513.7L424,511.7L434,509L449.7,506L455.7,503.7L461.7,500.7L469,496L475.3,490L479.3,487.3L482,484.7L484.3,478.7L484.7,469.3L486.3,459.3L487.7,457.3L489,456.7L492,456.3L495,454.7L496.3,453.3L497.3,451L497.7,449L497.7,428L498,427.7L498,405L497.7,402.7L494.3,397.7L483.7,388.3L471.7,385.3L469.7,384.3L452,371L432,357.3L429.3,353.3L421.7,338L420.7,333L419.3,329.7L416.7,319.7L413.3,291.3L413.3,285.7L413,285.3L413,275.7L412.7,275.3L412.7,265.7L412.3,265.3L412.3,255.7L412,255.3L412.7,160.3L413,160L414.7,126.7L417.7,96.3L421,84.7L425.7,75.7L430.7,70.3Z"/>
<path fill="#00FF8D" d="M387.7,70.3L388.3,504.7L404.3,507L411.3,507.3L411.7,507L419.3,506.7L436,504.3L442,504L444,503.3L447.7,503.3L455.7,501.3L462,499L468.7,495.3L480.3,484.7L482.7,480.7L484.3,475.7L484.3,470L486,459.7L488,457L491,456.3L494.7,454L496,452.7L497,450.3L497.3,428L497.7,427.7L497.7,404.3L497.3,402.7L494.7,398.3L484.3,389L481.7,387.7L471.3,385.3L470,384.7L451.3,370.7L432.3,357.7L430.7,356L421.7,338.3L420.7,333.3L416.7,320.3L416,312L414,298.3L414,295.3L413.3,292L413.3,286L413,285.7L413,276L412.7,275.7L412.7,266L412.3,265.7L412.3,256L412,255.7L412.7,159.7L413,159.3L415,121.3L415.7,118L415.7,113.3L417.7,95.7L421,84.3L425.3,76L430.3,70.3Z"/>
<path fill="#00FF73" d="M387.7,70.3L388.3,497.3L407.3,500L414.3,500L418.3,500.7L441,500.7L441.3,500.3L450.7,500L458.3,498.7L463,497L468.3,494.3L477.7,486L480.3,482.3L483.7,475.7L484.7,466L485.7,460.7L486.7,458L487.7,457L491.3,455.7L494.3,453.3L496.3,450.3L496.7,443.3L497,443L497.3,403.7L496.7,401.7L494,397.7L483.3,388.3L470.3,385L452,371.3L431.7,357.3L430.3,355.7L421.7,338.7L420.7,333.7L416.7,320.7L415.3,307L413.3,293L412.3,256.7L412,256.3L412.3,161.3L412.7,161L414,132.3L414.7,129L416,108.3L416.7,105.3L417.3,97L421,84L425.3,75.7L430,70.3Z"/>
<path fill="#00FF5A" d="M387.7,70.3L388.3,491L396,493L402,493.7L406,494.7L418.3,495.7L420.7,496.3L440.3,496.7L440.7,496.3L448,496.3L455.3,495.3L461.7,493.7L467,491.3L476,483.7L480.7,477.3L483,473L485.7,459.7L486.3,458.3L488.3,456.3L490.3,455.7L494.3,452L495.3,450.3L496,447.3L496.3,434.7L496.7,434.3L496.7,418.7L497,418.3L496.7,402.3L494.3,398.3L484,389L482,388L471.7,385.7L469.7,384.7L452.3,371.7L432.3,358L430,355.3L421.3,337.7L420.7,334L416.3,319L415.3,307.7L413,290.7L413,284.7L412.7,284.3L412.7,274.7L412.3,274.3L412,255L411.7,254.7L412.3,161L412.7,160.7L414,132L414.7,128.7L415.7,111L417.3,96.3L420,86L425.3,75.3L430,70.3Z"/>
<path fill="#00FF40" d="M387.7,70.3L388.3,485L398.3,487.7L408,489.3L409.7,490L415,490.3L421,491.7L431,492L431.3,492.3L445.7,492.3L454.3,491.3L460,490L465,488L471.7,483.3L477,478L481,472.3L483.3,467.3L486,458.3L491,454L494,450L494.7,447.7L495.7,439L496.3,403L493.7,397.7L483.3,388.7L471.3,385.7L469.3,384.7L451.7,371.3L431.3,357.3L429,353.7L421.3,338L420.3,333L416.3,319.7L412.7,285L412.7,275.3L412.3,275L412.3,265.3L412,265L412,255.3L411.7,255L412.3,160.7L413,154.3L413.7,136L414.7,128L415.7,110.3L417.3,95.7L420,85.7L425,75.7L429.7,70.3Z"/>
<path fill="#00FF26" d="M387.7,70.3L388.3,478.3L400.3,482.3L403,482.7L411,485L416.3,485.7L421.7,487L431.7,488L437,488L437.3,488.3L453.3,487.3L459.3,486L463.7,484.3L469.7,480.7L473.3,477.7L479,471.3L484.3,462.7L486,458L489,455.3L493,449L494.3,441.7L494.7,434L495,433.7L495.3,419.3L495.7,419L495.7,402.3L493.7,398L483.7,389L482.3,388.3L472,386L469.7,385L451,371L432,358L430.3,356.3L421.3,338.3L420.3,333.3L416.3,320L412.7,285.3L412.7,275.7L412.3,275.3L412.3,265.7L412,265.3L412,255.7L411.7,255.3L412.3,160.3L413,154L413.7,135.7L414,135.3L415.3,113.3L417,97L420,85.3L425,75.3L429.3,70.3Z"/>
<path fill="#00FF0D" d="M387.7,70.3L388.3,471.3L402,477L405.7,477.7L413.3,480.3L416.3,480.7L424,482.7L437,484L445,484L445.3,483.7L452.3,483.3L458.7,482L465.3,479.3L472,475L479.3,467.7L484.7,460.7L485.7,458L488.7,454.7L492,447.7L493.7,438.7L493.7,434.3L494.3,431.7L494.3,426.3L494.7,426L494.7,419.3L495,419L495,408.3L495.3,408L495,401.3L493.7,398.3L484.3,389.7L482,388.3L470,385.3L451.3,371.3L431.3,357.7L430,356L421.3,338.7L420.3,333.7L418,326.7L416,318.3L416,315.3L413,291.7L413,286L412.7,285.7L412.7,276L412.3,275.7L412.3,266L412,265.7L412,256L411.7,255.7L412.3,160L412.7,159.7L414.7,121L415.3,117.3L415.7,108L416.3,105L417,96.3L420,85L425,75L429.3,70.3Z"/>
<path fill="#12FF00" d="M387.7,70.3L388.3,464.7L403.3,471.7L407.3,472.7L416,476L422.7,477.3L423.7,478L431.3,479.3L434.7,479.3L438.7,480L451.3,479.3L461.7,477L471.3,472L476.7,467.7L480.3,464L481.7,462L483.7,460.3L487.3,455L491,446L492.7,437.7L492.7,434L493.3,431.7L493.3,427L494.3,419L494.3,408.7L494.7,408.3L494.3,400.7L493,397.7L482.7,388.7L472.3,386.3L469.3,385L452,372L431.7,358L429.7,355.7L421,337.7L420,332.7L419,330.3L416,319L412.7,285.7L412,256.3L411.7,256L412.3,159.3L413,152.7L412.7,150.3L413,150L413.3,137L414.7,125.3L415.3,110.7L417,95.7L420,84.7L424.7,75.3L429,70.3Z"/>
<path fill="#35FF00" d="M387.7,70.3L388.3,461.3L391.3,462.3L398,465.7L405.7,468.3L413.7,470.3L416.7,471.7L418.3,471.7L426,473.7L439,475L451.7,474L461,471.7L468.3,468L477,461.3L481.3,457L484.7,452.7L487.7,446.3L490.7,436.7L491,433L492,430L492,427L492.7,425L493.7,416L493.7,409.7L494.3,406.3L493.7,399.7L492.7,397.7L483,389L472,386.3L469,385L451.3,371.7L431,357.7L427.3,351.3L421,338L420,333L419,330.7L416,319.3L415,307.7L413,293.3L412,257L411.7,256.7L411.7,236.7L411.3,236.3L412,161.3L412.7,155L413.3,136.3L414.3,128.7L415.3,110L416.7,97L419.7,85L424.7,75L428.7,70.3Z"/>
<path fill="#58FF00" d="M387.7,70.3L388.3,458.3L392,459.3L398,462L405.7,464.3L410,465L416.7,467L423.3,468.3L434.3,469.7L443,469.7L449,469L457.7,467L466,463.3L474.7,457L480,452L481.7,449.7L485.7,442.3L487.7,437.3L491.3,424L492.7,416.7L493,410.3L493.7,407.3L493.3,401L492.3,397.7L483.7,389.7L481.7,388.7L472.7,386.7L469.3,385.3L451.7,372L431.7,358.3L430,356.7L421,338.3L420,333.3L419,331L416,319.7L414.3,302.3L412.7,290.7L412.7,284.7L412.3,284.3L411.7,255L411.3,254.7L412,160.7L412.7,154.3L413.3,136L414.3,128.3L415.3,108.7L416,105.3L416.7,96L419.7,84.7L424.7,74.7L428.7,70.3Z"/>
<path fill="#7BFF00" d="M387.7,70.3L388.3,455.3L405.3,460.3L426,464L441,464.7L443.7,464L448.3,463.7L456.7,461.7L463.7,458.7L472.7,452.7L479.3,446L483,440.3L486,434.3L491,419.7L493,407.7L492.7,400.3L491.7,397.3L483,389.3L469.7,385.7L452.3,372.7L431,358L429.7,356.3L421,338.7L420,333.7L416,320L412.3,285L412.3,275.3L412,275L412,265.3L411.7,265L411.7,255.3L411.3,255L412,160.7L412.3,160.3L414.3,121.3L415,117.7L415.3,107.7L416.7,95.7L419.7,84.3L424.7,74.3L428.3,70.3Z"/>
<path fill="#9EFF00" d="M387.7,70.3L388.3,452.3L402.7,456L409,456.7L411.3,457.3L414.3,457.3L420.7,458.7L423.3,458.7L426.3,459.3L434.7,459.3L435,459.7L441.3,459.3L449.7,458L459.3,455L464.7,452.3L470.3,448.7L477.7,442L483.7,433.3L490,419L492,409.7L492.3,402.7L491,397L482.7,389.3L471.7,386.7L469.3,385.7L451.7,372.3L431.7,358.7L429.7,356.7L421,339L419.7,332.7L418.7,330.3L415.7,318.7L415.7,315.3L414,303.7L413.7,297.3L412.7,291.3L412.7,285.7L412.3,285.3L412.3,275.7L412,275.3L412,265.7L411.7,265.3L411.7,255.7L411.3,255.3L412,160.3L412.3,160L413,141.3L413.3,141L413.3,135.3L414.3,125.7L415,110.3L416,103.3L416.3,96.7L419.3,84.7L424.7,74L428,70.3Z"/>
<path fill="#B8FF00" d="M387.7,70.3L388.3,449.3L397.7,451.7L406.7,453L415.3,453.3L417.7,454L421.3,454L425.3,454.7L438,454.7L448,453L452.3,451.3L457,450.3L463.7,447.3L473.3,441L478.7,435.7L481,432.7L487.3,421.3L489,417.7L491,409.3L491.3,402.3L490,396.7L482.7,389.7L469.7,386L451,372L431,358.3L429.3,356.3L420.7,338.3L419.7,333L418.7,330.7L415.7,319L412.3,285.7L412.3,276L412,275.7L412,266L411.7,265.7L411.7,256L411.3,255.7L412,159.7L412.3,159.3L413,141L413.3,140.7L413.3,135L414.3,125.3L415,109.7L416.3,96L419.3,84.3L424,74.7L427.7,70.3Z"/>
<path fill="#C8FF00" d="M387.7,70.3L388,426.7L388.3,427L388.3,445L391.3,446L394.7,446.3L400,447.7L407.7,448.7L417.3,449L427,450L436,449.7L446.7,447.7L455,445L461.3,442L470.3,436L474.3,432L478,427.3L484.3,416.3L487.3,406.3L487.3,399.7L486.3,394L482.7,390L469.3,386L451.7,372.7L431.7,359L429.7,357L420.7,338.7L419.7,333.3L418.7,331L415.7,319.7L412.3,286L412.3,276.3L412,276L412,266.3L411.7,266L411.7,256.3L411.3,256L411.7,161.7L412,161.3L413,136.7L414,128.7L415,108L416.3,95.3L419,84.7L424,74.3L427.3,70.3Z"/>
<path fill="#D8FF00" d="M387.7,70.3L388,426.7L388.3,427L388.3,440.7L399.7,443L407.3,444L417.7,444.3L418,444.7L427,444.7L427.3,445L435.7,444.3L446,442L449,440.7L452,440L459.3,436.3L467,431L472.7,424.7L479,415L481.3,409.3L482.7,405L482.7,401.7L483,401.3L482.3,391.3L481.3,390L479,389L469.7,386.3L451,372.3L431,358.7L429.7,357.3L420.7,339L419.7,333.7L418.7,331.3L415.7,320L414,302.3L412.7,293.7L411.7,257.7L411,254L411.7,161L412.3,154.7L413,136.3L413.3,136L413.3,131.7L414,128.3L414,123L414.7,117.3L414.7,110.7L415,110.3L416,96.3L418.3,86L419.3,83.3L424,74L427,70.3Z"/>
<path fill="#E7FF00" d="M387.7,70.3L388,426.7L388.3,427L388.3,436L395,437.7L406,439.3L418.3,439.7L418.7,440L431,439.7L441,437.7L449,435L455.7,431.7L462.3,427L468.3,420.7L474.3,412.3L476,409L478.3,401.7L478.7,392L478.3,390L477.3,389L468.7,386L451.7,373L430.3,358.3L420.7,339.3L420,335.3L415.7,320.7L413.3,297L412.3,291L412.3,285L412,284.7L412,275L411.7,274.7L411.3,255.3L411,255L411.7,160.7L412,160.3L414.7,109.7L415,109.3L416,95.3L419,83.7L423.7,74L427,70.3Z"/>
<path fill="#F7FF00" d="M387.7,70.3L388,426.7L388.3,427L388.3,431.7L394,433L405.3,434.7L418.7,435L419,435.3L426.7,435L434.3,433.7L445.3,430.3L452.7,426.7L458.7,422.3L462.3,418.7L468.3,411.3L470.7,408L472.7,404L474.7,397.7L475,394.3L474.7,389L468.3,386L450,372L431,359L429.3,357.3L420.3,338.7L419,332L418,329.7L415.3,319L412,285.3L412,275.7L411.7,275.3L411.7,265.7L411.3,265.3L411.3,255.7L411,255.3L411.7,160.3L412,160L413,135.3L413.7,130.7L414.3,113L414.7,112.7L414.7,107.7L415,107.3L415.7,96.7L418.7,84L423.7,73.7L426.7,70.3Z"/>
<path fill="#FFF200" d="M387.7,70.3L388,426.7L389,427.3L390.3,427.3L394.7,428.7L406.7,430.3L411,430.3L411.3,430.7L424.7,430.3L429,429.7L431.3,428.7L434,428.3L435,427.7L437.7,427.3L440,426L443.7,425L446,423.3L449.7,421.7L455,417.7L460.3,412.3L466.3,405.3L468,402.7L471,395.7L471.3,388.7L471,388L467.3,385.7L450.7,372.7L433,360.7L429.3,357.7L420.7,340L419.3,333.7L415.3,319.7L414.3,307.3L412.3,291.7L411.3,256L411,255.7L411.7,160L412,159.7L413,135L413.7,130.3L414.3,110.3L414.7,110L415.7,95.3L419,82.7L423.3,73.7L426.3,70.3Z"/>
<path fill="#FFD900" d="M387.7,70.3L388,421.3L393,422.3L394.3,423L407.7,425L412,425L412.3,425.3L423.3,425L436,422L437.7,421L440.3,420.3L446,417.3L451.7,413.3L457,408L461.7,402.7L463.7,399.7L466.3,393.3L466.7,387.3L466.3,385.7L458.3,378.7L429.3,358L420.7,340.3L419.3,334L415.3,320.3L415.3,317.3L414.7,314.3L413.7,302L412.3,292.3L411.3,256.3L411,256L411.3,177.7L411.7,177.3L411.3,161.7L411.7,161.3L412.7,136.7L413.7,128.7L414.3,108.3L414.7,108L415.3,96.7L418.3,83.7L423.3,73.3L426,70.3Z"/>
<path fill="#FFC000" d="M387.7,70.3L388,415.7L396.7,417.7L407,419.3L420,419.7L426.7,418.7L435,416.3L444,412L448.7,408.7L457.7,399L459.7,396L461.7,391L462,383.3L461.7,382.3L457,378L450,372.7L432.3,360.7L428.7,357.3L420.7,340.7L415,318.7L413.7,302.7L412.3,293.7L411.3,257L411,256.7L411,248.3L410.7,248L411.3,161L411.7,160.7L412.7,136L413.7,127.7L413.3,126.7L413.7,126.3L413.7,120L414,119.7L414,112.7L414.3,112.3L414.3,106.7L414.7,106.3L415.3,95.3L418.3,83L423.3,72.7L425.3,70.3Z"/>
<path fill="#FFA600" d="M387.7,70.3L388,409.7L397,412L406.3,413.7L413,414L413.3,414.3L420.7,414L426.3,413L435.7,410L440.3,407.7L446,403.7L453.7,395.3L456,391.7L457.3,386L457.7,379.7L451.3,374L430.7,359.7L428.7,357.7L422.3,344.7L419.7,338L419,333.7L415.3,321.3L414,307L413.3,304L413,297.3L412,291L411,255.3L410.7,255L411.3,160.3L411.7,160L412.7,135.7L413.7,125.3L414,109.7L414.3,109.3L415,96L417.7,84L423,72.7L425,70.3Z"/>
<path fill="#FF8D00" d="M387.7,70.3L388,403.7L392.7,404.7L396,406L408,408.3L412,408.3L412.3,408.7L421,408.3L430.7,406L438.3,402.3L443,399L451,389.7L452.3,386.7L454,380L454,377.3L452,375L431.7,360.7L428.3,357.7L420,339.7L418.7,333L415.3,321.7L412,291.7L411,255.7L410.7,255.3L411,178.7L411.3,178.3L411.3,160L412,153.7L412.7,135.3L413.3,130.7L414,107L414.3,106.7L415,94.7L415.7,93L417,85.3L422.7,72.7L424.7,70.3Z"/>
<path fill="#FF7900" d="M387.7,70.3L388,398L394.3,399.3L397.3,400.7L400.7,401L403.3,402L409,403L413,403L413.3,403.3L419.7,403L428.3,401L436,397.3L439,395.3L447.7,385.7L450.7,377L450.7,375L448.3,372.7L430.3,360L428.3,358L421.7,344L419.7,339L418.7,333.3L417.7,331L415,320.7L412,292L411,256.3L410.7,256L411,178.3L411.3,178L411.3,159.3L412,152.7L412.3,137L413.3,128.7L413.7,110L414,109.7L414.7,95.3L417,84.3L421.3,74.3L424,70.3Z"/>
<path fill="#FF6C00" d="M387.7,70.3L388,394L390,394L396.3,395.7L397.3,396.3L410.7,399L417.3,399L427,396.7L432.7,394L437.3,390.7L444,382.7L446.7,374.3L446.3,372.3L443.7,369.7L430,360L428,358L419.7,339.7L418.3,332.7L415,321.3L412.7,296.7L412,293.7L411,256.7L410.7,256.3L410.7,228.7L410.3,228.3L410.7,179.7L411,179.3L411,161L411.7,154.7L412.3,136L413.3,125.7L413.7,106.3L414,106L414.3,96.3L416.7,84.3L422,72.3L423.7,70.3Z"/>
<path fill="#FF5E00" d="M387.7,70.3L388,389.7L389.7,389.7L399.7,392.7L407.7,394.3L417.3,394.7L425,392.7L430.3,390L434,387.3L440,380L441.7,375.3L441.7,372L442,371.7L441.7,369.3L439,366.7L430,360.3L428,358.3L420,341L418,332L414.7,320.3L413.7,307.3L412.7,301L412.7,297.3L411.7,291L410.7,255.3L410.3,255L410.7,179L411,178.7L411,160.3L411.7,154L412.3,135.7L413,131L413.3,109.7L413.7,109.3L414,97.3L416,86L417.3,81.7L420,75.7L423,70.3Z"/>
<path fill="#FF5000" d="M387.7,70.3L388,385L399.3,388.3L407,390L417,390.3L423.7,388.3L430.3,384.3L435.7,378L437,374.7L437.7,370.3L437.7,366.7L427.7,358.3L419.3,339.7L419,336.7L414.3,319L414.3,315.3L413.3,309L413.3,305.3L412.3,299L411.7,285.7L411.3,285.3L411.3,275.7L411,275.3L410.7,256L410.3,255.7L410.7,178.7L411,178.3L411,159.7L411.7,153.3L412.3,135L413,130L413,117.7L413.3,117.3L413,115.7L413.3,115.3L413.7,99L414,98.7L414,95L416,84.7L420.3,74L422.7,70.3Z"/>
<path fill="#FF4300" d="M387.7,70.3L388,380.3L397.7,383.7L408.3,386L416.7,386L420,385L425.3,382.3L429.3,378.7L432,374.7L434,366.7L433.7,364L427.3,358.3L419.3,340.3L418.7,336L414.3,320L413,303L411.7,292.7L411.7,286.3L411.3,286L411.3,276.3L411,276L411,266.3L410.7,266L410.7,256.3L410.3,256L410.3,221.3L410.7,221L410.3,180L410.7,179.7L410.7,161L411,160.7L412,136.3L412.3,136L412.7,125.7L413,125.3L412.7,123.7L413,123.3L413.3,101L413.7,100.7L413.7,95.7L415.7,84.7L420.7,72.3L422,70.3Z"/>
<path fill="#FF3600" d="M387.7,70.3L388,376L392.3,377.3L394.7,378.7L403,381L410,382.3L414.3,382.3L418,381.3L422,379.3L425.7,376.3L428,373L431,363.3L430.7,362L427.3,358.7L420,342.7L414.3,320.7L413.3,307.7L412.3,301L412.3,297.3L411.3,290.7L411.7,287.3L411,281.7L410.3,255.3L410,255L410.7,160.3L411.3,154L412,135.7L412.7,130.7L413.3,96.7L415.3,84.7L419.7,73.7L421.7,70.3Z"/>
<path fill="#FF2A00" d="M387.7,70.3L388,372.7L393.7,375L396.3,376.7L401.3,378.3L408.7,380L415.3,380L421.3,377.3L424.3,374.7L426.7,371.3L429.3,364L429.3,361.3L427,358.7L419.7,342.3L418.7,339.3L417.3,332L414.3,321.7L411.3,292L410.3,256L410,255.7L410.7,159.7L411,159.3L411.7,140.7L412,140.3L412,134.7L412.7,128.3L413,98L415,84.7L417,79L421,70.3Z"/>
<path fill="#FF1E00" d="M387.7,70.3L388,368.7L396,373.7L401,376L408.7,378L415,378L420.3,375.7L423,373.3L424.7,371.3L426.3,368L428.3,362L419.7,343L418.3,339L417.3,332.7L414,321L412,297.3L411.3,294L410.3,257L410,256.7L410,241.3L409.7,241L410,179.3L410.3,179L410.3,160.7L411,154.3L411.7,135.7L412.3,131L412.7,99.7L413,99.3L413,94.7L415,83.3L419,73.3L420.7,70.3Z"/>
<path fill="#FF1200" d="M387.7,70.3L388,363.7L397.7,371.7L402.7,374.3L408.7,376L415,376L419.3,374L422.3,371.3L423.7,369.7L427,362L427,360L418.3,340L417.3,333.7L413.7,320L412.3,302.7L411,292L410,256L409.7,255.7L410.3,159.3L410.7,159L411.7,134L412.3,128L412,120.7L412.3,120.3L412.7,94.7L414.7,83.3L420,70.3Z"/>
<path fill="#FF0600" d="M387.7,70.3L388,356.3L389.7,358L393.7,364L398,368.7L401,371L404.3,372.7L408.7,374L414.7,374L418.7,372L422,369L425,363.7L426,360L425.3,357L418,340L417,333.7L413.3,320L412,302.3L410.7,291.7L409.7,255.7L409.3,255.3L409.7,178.7L410,178.3L410,159.7L410.7,153.3L411.3,135L412,130L412,99.7L412.3,99.3L412.3,94.3L414,84L419.3,70.3Z"/>
</g>
<g id="plumebL">
<path fill="#2020FF" d="M387.8,70.2L435.8,70.2L429,77L423.5,86.5L420,97L418,109.8L414.9,133L413.3,164L413,195L412.5,250L412.6,290L418.3,320L426.7,338.8L436.1,352L449.3,363.3L462.5,374.6L480.4,384L490,389L497,396L500.5,402L500.8,406L500.8,459.3L490,459.3L490,495L480.4,495L480.4,505.4L468.1,505.4L468.1,516.6L457.8,516.6L457.8,527L441.8,527L441.8,539.2L430.5,539.2L430.5,550.5L417.3,550.5L417.3,561.8L403.2,561.8L403.2,577.8L399.6,577.8L398.1,569L396.6,577.8L392.9,577.8L390,562.8L388.2,552Z"/>
<path fill="#0857FF" d="M433.3,70.3L387.7,70.3L388.3,550L389.3,550.3L390.7,552.3L391.7,559L394.3,568L395.3,568.7L397.7,567.7L399,568L400.3,569.3L401,569.3L401.3,567.7L401.3,561.3L402.3,560L414.7,559.3L415.3,558.3L415.3,550.3L416.3,549L428,548.3L428.7,547.3L428.7,539L429,538.3L430.3,537.3L438.3,537.3L439.3,536.7L439.7,536L439.7,526.7L440.7,525.3L441.3,525L454.3,525L455,524.7L455.7,523.7L455.7,516.3L456,515.7L457.3,514.7L464.7,514.7L465.7,514L466,513.3L466,505L467,503.7L477.7,503L478.3,502L478.3,494.7L478.7,494L480,493L486.7,493L487.7,492.3L488,491.7L488,466.7L488.3,466.3L488.7,459.7L490,458.3L498.3,458.3L499.3,458L499.7,457.3L500,403.3L499.3,401.3L496.7,397L489,389.3L462.3,375.7L440.7,357.3L434.7,351.7L426.7,339.7L418.7,321.7L417.7,318.3L416.7,310.7L412.7,290.7L413,179.7L413.3,179.3L413.3,161L413.7,160.7L415,132L416,126L416.3,119.3L418.3,101.7L419.3,95.7L420.3,93.3L421,89.7L422,86.7L427.3,76.7Z"/>
<path fill="#0578FF" d="M433,70.3L387.7,70.3L388.3,549.3L389.3,549.7L390.7,551L391.3,553L391.7,556.7L395,565.3L395.7,566.3L399.7,568L400.7,568L400.7,561.7L401,560.7L402.3,559.3L403.3,559L414.3,559L414.7,558.7L414.7,551L416,548.7L417.7,548L427.7,548L428,547.7L428,539.7L429.3,537.3L431,536.7L438.7,536.7L439,536.3L439,527.3L440.3,525L442,524.3L454.7,524.3L455,524L455,517L455.7,515.3L458,514L465,514L465.3,513.7L465.3,505.7L466.7,503.3L468.3,502.7L477.3,502.7L477.7,502.3L477.7,495.3L478.3,493.7L480.7,492.3L487,492.3L487.3,492L487.3,469.7L488.3,459.7L490,458L498.3,458L499.3,457L499.7,403L499,401.3L496.3,397L489,389.7L462.3,376L440.7,357.7L434.3,351.7L426,339L423,331.3L418.3,321.3L412.7,291L412.7,222.3L413,222L413.3,160.7L413.7,160.3L414.3,142L414.7,141.7L414.7,136L415.7,128L415.7,124L418.7,97.7L421,88.7L427.3,76Z"/>
<path fill="#0299FF" d="M432.3,70.3L387.7,70.3L388.3,549L390.7,550.3L391.7,552.7L392.3,557L396,564L398,566.3L399.7,567.3L400.3,567L400.3,561.3L401.7,559.3L403,558.7L414,558.7L414.3,558.3L414.3,550.7L414.7,549.7L416.3,548L417.3,547.7L427.3,547.7L427.7,547.3L427.7,539.3L428,538.3L429.7,536.7L438.3,536.3L438.7,536L438.7,527L439,526L440.7,524.3L441.7,524L454.3,524L454.7,523.7L455,515.7L456.7,514L457.7,513.7L464.7,513.7L465,513.3L465,505.3L465.3,504.3L467,502.7L477,502.3L477.3,502L477.7,494L479.3,492.3L480.3,492L486.7,492L487,491.7L487,469.7L488.3,459L490,457.7L498.3,457.7L499,457L499.3,455.3L499.3,402.7L496,397L489,390L462,376L440.3,357.7L434.3,352L426,339.3L418,321L412.7,291.7L412.7,221.7L413,221.3L413,178L413.3,177.7L413,162.3L413.3,162L414.7,132.7L415.3,129.7L416,119L416.7,115.7L418,100.7L418.7,96.3L420,92.7L420.7,89L421.7,86L427,76Z"/>
<path fill="#00B8FF" d="M432,70.3L387.7,70.3L388.3,548.7L390.3,549.3L391.7,551L393.3,556.7L395,558.3L399,565L399.3,565L399.7,561.3L401.7,558.7L402.7,558.3L413.3,558.3L414,557.7L414,550.3L415.7,548L417.3,547.3L427,547.3L427.3,547L427.3,539.3L428,537.7L429,536.7L430.7,536L438,536L438.3,535.7L438.3,527L439,525.3L440,524.3L441.7,523.7L454,523.7L454.3,523.3L454.3,516.7L455,515L456.7,513.7L458,513.3L464.3,513.3L464.7,513L464.7,505.7L466,503L468.3,502L476.7,502L477,501.7L477,495L477.7,493.3L478.7,492.3L480.7,491.7L486.3,491.7L486.7,491.3L486.7,470.3L488,459.3L489.7,457.7L498.3,457.3L499,456L499.3,405L499,402.3L496,397.3L488.7,390L461.7,376L434.7,352.7L426,339.7L423,332L418,321.3L412.3,290.3L412.7,179.7L413,179.3L413,161L413.3,160.7L414.7,132L415.3,128.7L415.7,121L416.3,118L416.3,114L417.7,102L420,90.7L421.3,86.3L426.3,76.7Z"/>
<path fill="#00D5FF" d="M387.7,70.3L388.3,547L391.3,547.7L396.7,550.3L400.7,553L405,557L411.7,557.3L413,556.7L413.7,550L415.3,547.7L416.7,547L426.3,546.7L427,544L427.3,538L429.3,536L430.3,535.7L437,535.7L437.7,535.3L438,534.7L438,527L438.7,525.3L440,524L441.7,523.3L453,523.3L453.7,523L454,516.7L454.7,515L456,513.7L457.7,513L464,513L464.3,512.7L464.3,505.3L465,503.7L466.3,502.3L468,501.7L476,501.7L476.7,501L476.7,495L477.3,493.3L478.7,492L480.3,491.3L485.7,491.3L486.3,490.7L486.7,467.7L487.7,459.7L488.3,458.3L490,457.3L498,457L498.7,456L498.7,451.3L499,451L499,402.7L495.7,397L489.3,390.7L462.3,376.7L434.7,353L426.7,341L417.7,320.7L413,293L412.3,291L412.7,179.3L413,179L413,160.7L413.7,154.3L414.3,135.7L415.3,128L415.3,123.7L416,120L416.7,109L418.7,95L422,84.3L427,75.3L431.7,70.3Z"/>
<path fill="#00F1FF" d="M387.7,70.3L388.3,540.7L395.7,542L409.3,547L411.7,547L421,544L426,540.7L426.3,538.7L428.3,536L430.7,535L434,534.7L435,534L437,531.7L438,525.3L439.7,523.7L441,523L447.7,522.7L450,522L452.3,520.7L453.3,519.3L453.7,516L455.7,513.3L457,512.7L463.3,512L464,508.7L464,505L465.7,502.3L467.7,501.3L471,501.3L475,500.3L476,498L476.3,494.3L478.3,491.7L480,491L485,490.7L485.7,490L486.3,483.7L486.3,468.7L487.7,459.3L489.3,457.3L496.3,457L497.7,456.7L498.3,455.7L499,406.3L498.7,406L498.7,402.3L496.3,398.3L488.7,390.3L461.7,376.3L440.3,358.3L434,352.3L426.3,340.7L417.3,320L416,310.7L413.7,299.3L413.7,297.3L413,295.3L413,293.3L412.3,291.3L412.7,178.7L413,178.3L413,160L413.7,153.7L414.3,135.3L414.7,135L415,126.7L417.3,102.3L418.3,95.7L419,94.3L420,89.3L421.3,85.3L426.3,76L431.7,70.3Z"/>
<path fill="#00FFF2" d="M387.7,70.3L388.3,534L402.7,536.3L406.3,537.3L414.7,537.7L418.7,537L426,533L429.7,530.3L437.3,522.7L440,520.7L446.3,517L454,513.7L459.7,509L462,506.7L464.3,503L465.7,501.7L468.3,500.3L476.3,492L479.3,490.3L482.3,489.7L484.7,488L485.7,485.7L486,469.3L487.7,458.7L489,457.3L490,457L493.3,457L497.3,456L498.3,453L498.7,403L494.7,396.3L489.7,391.3L462.3,377L434.3,353L426,340.3L417.7,321.3L412.3,291.7L412.3,180.3L412.7,180L412.7,161.3L413.3,155L413.7,142.7L414,142.3L414.3,132.3L415.3,125.7L415.3,121.3L416,118L416,113.7L418,96.7L420.3,87.7L423,81.7L426.3,75.7L431.3,70.3Z"/>
<path fill="#00FFD9" d="M387.7,70.3L388.3,527L399.3,528.3L407.7,530L413,530.3L416.3,530L419,529L426.7,525L432.3,520.3L436.7,517.7L444.3,514L453.7,510.7L458.7,507L464.3,501.7L466,500.7L475.7,491.3L479,489.3L482,488.3L483.7,487L485.3,483.3L485.7,470.7L487.3,459L489.3,457L496,456L497,455L498,452.3L498.3,449.7L498.3,402.7L495.3,397.3L488.7,390.7L461.7,376.7L440.3,358.7L434,352.7L425.7,340L417.3,320.7L412,290.3L412.3,179.7L412.7,179.3L412.7,161L413.3,154.7L413.7,142.3L414,142L414,136.3L415,128.7L416.3,109L418,96L421,85.3L426.3,75.3L431,70.3Z"/>
<path fill="#00FFBF" d="M387.7,70.3L388.3,519.7L390.7,519.7L407,522.3L414,522.7L422,520L427.7,516.7L435.3,513.3L445.3,510L452,508.3L457.3,505.3L466,499.3L476.3,490L480.3,488L482.7,486L484,483.7L485,480L485.7,474.3L485.7,468.3L487.3,458.7L489,457L493.3,456.3L496,455L497.7,451.7L498,449.7L498.3,404.3L498,402.3L495.7,398L488,390.3L461,376.3L434.3,353.3L426,340.7L417,319.7L412,290.7L412.3,179.3L412.7,179L412.7,160.7L413.3,154.3L413.7,142L414,141.7L414,136L415,128L416.3,108L417,105.3L418,95.3L420.3,86.7L426.3,75L430.7,70.3Z"/>
<path fill="#00FFA6" d="M387.7,70.3L388.3,512L406,514.7L412.3,515L419,513.7L424,511.7L434,509L449.7,506L455.7,503.7L461.7,500.7L469,496L475.3,490L479.3,487.3L482,484.7L483.3,482L485.3,474.7L485.3,469.3L487,459.3L487.7,458L489.3,456.7L492,456.3L495,454.7L496.3,453.3L497.3,451L497.7,449L497.7,428L498,427.7L498,403L495,397.3L488.3,390.7L461.7,377L440,358.7L433.7,352.7L425.7,340.3L417,320L412,291L412.3,179L412.7,178.7L412.7,160.3L413.3,154L413.7,141.7L414,141.3L414,135.7L415.3,122.7L415.3,118.7L416,115L416,110.7L417.7,96.3L421,84.7L425.7,75.7L430.7,70.3Z"/>
<path fill="#00FF8D" d="M387.7,70.3L388.3,504.7L404.3,507L411.3,507.3L411.7,507L419.3,506.7L436,504.3L442,504L444,503.3L447.7,503.3L455.7,501.3L462,499L468.7,495.3L480.3,484.7L482.7,480.7L484.7,475.3L485,469.7L487,458.7L489,456.7L491,456.3L494.7,454L496,452.7L497,450.3L497.3,428L497.7,427.7L497.7,402.7L495.3,398L488,390.7L462,377.3L434,353.3L426,341L417,320.3L412,291.3L412,221.7L412.3,221.3L412.7,159.7L413,159.3L415,121.3L415.7,118L415.7,113.3L417.7,95.7L421,84.3L425.3,76L430.3,70.3Z"/>
<path fill="#00FF73" d="M387.7,70.3L388.3,497.3L407.3,500L414.3,500L418.3,500.7L441,500.7L441.3,500.3L450.7,500L458.3,498.7L463,497L468.3,494.3L477.7,486L480.3,482.3L484,475L484.7,472.3L485,467.3L487,458.3L488.7,456.7L491.3,455.7L494.3,453.3L496.3,450.3L496.7,443.3L497,443L497.3,403L494.7,397.3L488.3,391L461.3,377L440,359L433.7,353L425.7,340.7L417,320.7L412,291.7L412.3,161.3L412.7,161L414,132.3L414.7,129L416,108.3L416.7,105.3L417.3,97L421,84L425.3,75.7L430,70.3Z"/>
<path fill="#00FF5A" d="M387.7,70.3L388.3,491L396,493L402,493.7L406,494.7L418.3,495.7L420.7,496.3L440.3,496.7L440.7,496.3L448,496.3L455.3,495.3L461.7,493.7L467,491.3L476,483.7L480.7,477.3L483,473L486.7,458.7L488.3,456.7L490.3,455.7L493.3,453L495.3,450.3L496,447.3L496.3,434.7L496.7,434.3L496.7,418.7L497,418.3L496.7,401.7L494.7,397.7L489,391.7L460.7,376.7L434,353.7L425.3,340.3L417,320.7L411.7,290L411.7,223L412,222.7L412.3,161L412.7,160.7L414,132L414.7,128.7L415.7,111L417.3,96.3L420,86L425.3,75.3L430,70.3Z"/>
<path fill="#00FF40" d="M387.7,70.3L388.3,485L398.3,487.7L408,489.3L409.7,490L415,490.3L421,491.7L431,492L431.3,492.3L445.7,492.3L454.3,491.3L460,490L465,488L471.7,483.3L477,478L481.3,471.7L484,466L486.7,458.3L491,454L494,450L494.7,447.7L495.7,439L496.3,402.7L496,400.7L494.7,398L488,391L461.3,377.3L439.7,359L433.7,353.3L425.7,341L417,321L411.7,290.7L411.7,222.7L412,222.3L412.3,160.7L413,154.3L413.7,136L414.7,128L415.7,110.3L417.3,95.7L420,85.7L425,75.7L429.7,70.3Z"/>
<path fill="#00FF26" d="M387.7,70.3L388.3,478.3L400.3,482.3L403,482.7L411,485L416.3,485.7L421.7,487L431.7,488L437,488L437.3,488.3L453.3,487.3L459.3,486L463.7,484.3L469.7,480.7L473.3,477.7L479,471.3L485,461.7L486.3,458.3L489.3,455L493,449L494.3,441.7L494.7,434L495,433.7L495.3,419.3L495.7,419L495.7,401.7L494,397.3L489,392L461.7,377.7L434,354L425.3,340.7L418.3,323.7L417,321.3L414,305L414,303L413.3,301L413,297L412.3,295L412.3,293L411.7,291L411.7,222.3L412,222L412.3,160.3L413,154L413.7,135.7L414,135.3L415.3,113.3L417,97L420,85.3L425,75.3L429.3,70.3Z"/>
<path fill="#00FF0D" d="M387.7,70.3L388.3,471.3L402,477L405.7,477.7L413.3,480.3L416.3,480.7L424,482.7L437,484L445,484L445.3,483.7L452.3,483.3L458.7,482L465.3,479.3L472,475L479.3,467.7L488.7,454.7L492,447.7L493.7,438.7L493.7,434.3L494.3,431.7L494.3,426.3L494.7,426L494.7,419.3L495,419L495,408.3L495.3,408L495,401L493.7,397.3L488,391.3L461,377.3L439.3,359L433.3,353.3L425.7,341.3L416.7,320.3L412.3,295.3L412.3,293.3L411.7,291.3L411.7,222L412,221.7L412.3,160L412.7,159.7L414.7,121L415.3,117.3L415.7,108L416.3,105L417,96.3L420,85L425,75L429.3,70.3Z"/>
<path fill="#12FF00" d="M387.7,70.3L388.3,464.7L403.3,471.7L407.3,472.7L416,476L422.7,477.3L423.7,478L431.3,479.3L434.7,479.3L438.7,480L451.3,479.3L461.7,477L471.3,472L476.7,467.7L480.3,464L486.7,456.3L491,446L492.7,437.7L492.7,434L493.3,431.7L493.3,427L494.3,419L494.3,408.7L494.7,408.3L494.3,400.3L494,398.7L492.7,396.3L487.7,391.3L461.3,377.7L434,354.3L425.3,341L416.7,320.7L411.7,291.7L412,178.3L412.3,178L412.3,159.3L413,152.7L412.7,150.3L413,150L413,143.3L413.3,143L413.7,132.7L414.7,125.3L415.3,110.7L417,95.7L420,84.7L424.7,75.3L429,70.3Z"/>
<path fill="#35FF00" d="M387.7,70.3L388.3,461.3L391.3,462.3L398,465.7L405.7,468.3L413.7,470.3L416.7,471.7L418.3,471.7L426,473.7L439,475L451.7,474L461,471.7L468.3,468L477,461.3L481.3,457L484.7,452.7L487.7,446.3L490.7,436.7L491,433L492,430L492,427L492.7,425L493.7,416L493.7,409.7L494.3,406.3L494,401.7L492.7,396.7L488,391.7L461,377.7L439.3,359.3L433.3,353.7L425,340.7L421.7,332L416.7,321L411.7,292L411.3,223.3L411.7,223L412,161.3L412.7,155L413.3,136.3L414.3,128.7L415.3,110L416.7,97L419.7,85L424.7,75L428.7,70.3Z"/>
<path fill="#58FF00" d="M387.7,70.3L388.3,458.3L392,459.3L398,462L405.7,464.3L410,465L416.7,467L423.3,468.3L434.3,469.7L443,469.7L449,469L457.7,467L466,463.3L474.7,457L480,452L481.7,449.7L485.7,442.3L487.7,437.3L491.3,424L492.7,416.7L493,410.3L493.7,407.3L493.3,401L492.7,397.7L491.7,395.7L487.7,391.7L461.3,378L434,354.7L425.3,341.3L416.3,320L411.3,290.3L411.3,222.7L411.7,222.3L412,160.7L412.7,154.3L413.3,136L414.3,128.3L415.3,108.7L416,105.3L416.7,96L419.7,84.7L424.7,74.7L428.7,70.3Z"/>
<path fill="#7BFF00" d="M387.7,70.3L388.3,455.3L405.3,460.3L426,464L441,464.7L443.7,464L448.3,463.7L456.7,461.7L463.7,458.7L472.7,452.7L479.3,446L483,440.3L486,434.3L491,419.7L493,407.7L492.7,400.3L491.3,395.7L487.3,391.7L460.7,377.7L439,359.3L433.3,354L425,341L416.3,320.3L411.3,290.7L411.3,222.3L411.7,222L412,160.7L412.3,160.3L414.3,121.3L415,117.7L415.3,107.7L416.7,95.7L419.7,84.3L424.7,74.3L428.3,70.3Z"/>
<path fill="#9EFF00" d="M387.7,70.3L388.3,452.3L402.7,456L409,456.7L411.3,457.3L414.3,457.3L420.7,458.7L423.3,458.7L426.3,459.3L434.7,459.3L435,459.7L441.3,459.3L449.7,458L459.3,455L464.7,452.3L470.3,448.7L477.7,442L483.7,433.3L490,419L492,409.7L492.3,402.7L491,396L487,391.7L461,378L433.7,354.7L425.3,341.7L416.3,320.7L411.3,291L411.3,222L411.7,221.7L412,160.3L412.3,160L413,141.3L413.3,141L413.3,135.3L414.3,125.7L415,110.3L416,103.3L416.3,96.7L419.3,84.7L424.7,74L428,70.3Z"/>
<path fill="#B8FF00" d="M387.7,70.3L388,431.3L388.3,431.7L388.3,449.3L397.7,451.7L406.7,453L415.3,453.3L417.7,454L421.3,454L425.3,454.7L438,454.7L448,453L452.3,451.3L457,450.3L463.7,447.3L473.3,441L478.7,435.7L481,432.7L487.3,421.3L489,417.7L491,409.3L491.3,402.3L490,395.7L487,392L460.7,378L439,359.7L433,354L425,341.3L416.3,321L411.3,291.3L411.3,221.7L411.7,221.3L412,159.7L412.3,159.3L413,141L413.3,140.7L413.3,135L414.3,125.3L415,109.7L416.3,96L419.3,84.3L424,74.7L427.7,70.3Z"/>
<path fill="#C8FF00" d="M387.7,70.3L388,431.3L388.3,431.7L388.3,445L391.3,446L394.7,446.3L400,447.7L407.7,448.7L417.3,449L427,450L436,449.7L446.7,447.7L455,445L461.3,442L470.3,436L474.3,432L478,427.3L484.3,416.3L487.3,406.3L487.3,399.7L486.7,397.3L486.7,394.7L486,392.3L477,386.7L460,377.7L433.3,354.7L424.7,341L416,320L415.7,316L415,314L414.7,310L411.3,291.7L411.7,161.7L412,161.3L413,136.7L414,128.7L415,108L416.3,95.3L419,84.7L424,74.3L427.3,70.3Z"/>
<path fill="#D8FF00" d="M387.7,70.3L388,431.3L388.3,431.7L388.3,440.7L399.7,443L407.3,444L417.7,444.3L418,444.7L427,444.7L427.3,445L435.7,444.3L446,442L449,440.7L452,440L459.3,436.3L467,431L472.7,424.7L479,415L481.3,409.3L482.7,405L482.7,401.7L483,401.3L482.3,391.3L480.7,389.3L477,387L460.7,378.3L436.7,358L432.7,354L425.3,342.3L423.3,338.3L421.7,333.3L416,320.3L411.3,292L411,223L411.3,222.7L411.7,161L412.3,154.7L413,136.3L413.3,136L413.3,131.7L414,128.3L414,123L414.7,117.3L414.7,110.7L415,110.3L416,96.3L418.3,86L419.3,83.3L424,74L427,70.3Z"/>
<path fill="#E7FF00" d="M387.7,70.3L388,431.3L388.3,431.7L388.3,436L395,437.7L406,439.3L418.3,439.7L418.7,440L431,439.7L441,437.7L449,435L455.7,431.7L462.3,427L468.3,420.7L474.3,412.3L476,409L478.3,401.7L478.7,392L478.3,389.3L476.3,387L460.3,378.3L433,354.7L425,342L416,320.7L411,290.7L411,222.7L411.3,222.3L411.7,160.7L412,160.3L414.7,109.7L415,109.3L416,95.3L419,83.7L423.7,74L427,70.3Z"/>
<path fill="#F7FF00" d="M387.7,70.3L388,431.3L394,433L405.3,434.7L418.7,435L419,435.3L426.7,435L434.3,433.7L445.3,430.3L452.7,426.7L458.7,422.3L462.3,418.7L468.3,411.3L470.7,408L472.7,404L474.7,397.7L475,394.3L474.7,387.3L474,386.3L470.7,384L459.7,378L433.3,355.3L424.7,341.7L416,321L411,291L411,222.3L411.3,222L411.7,160.3L412,160L413,135.3L413.7,130.7L414.3,113L414.7,112.7L414.7,107.7L415,107.3L415.7,96.7L418.7,84L423.7,73.7L426.7,70.3Z"/>
<path fill="#FFF200" d="M387.7,70.3L388,427L394.7,428.7L406.7,430.3L411,430.3L411.3,430.7L424.7,430.3L429,429.7L431.3,428.7L434,428.3L435,427.7L437.7,427.3L440,426L443.7,425L446,423.3L449.7,421.7L455,417.7L460.3,412.3L466.3,405.3L468,402.7L471,395.7L471.3,387.7L470.7,385.3L469.7,384L459,377.7L436.3,358.3L432.3,354.3L423.7,340L422.3,335.7L416,321.3L411,291.3L411,222L411.3,221.7L411.7,160L412,159.7L413,135L413.7,130.3L414.3,110.3L414.7,110L415.7,95.3L418,85.3L423.3,73.7L426.3,70.3Z"/>
<path fill="#FFD900" d="M387.7,70.3L388,421.3L393,422.3L394.3,423L407.7,425L412,425L412.3,425.3L423.3,425L436,422L437.7,421L440.3,420.3L446,417.3L451.7,413.3L461.7,402.7L465.7,395.7L466.7,391.7L466.3,383.7L465.3,382L459,378L435.7,358L432.3,354.7L424.3,341.7L415.7,320.3L411,291.7L411,221.3L411.3,221L411.3,177.7L411.7,177.3L411.3,161.7L412,155.3L412.7,136.7L413.7,128.7L414.3,108.3L414.7,108L415.3,96.7L417.7,85.7L423.3,73.3L426,70.3Z"/>
<path fill="#FFC000" d="M387.7,70.3L388,415.7L396.7,417.7L407,419.3L420,419.7L426.7,418.7L435,416.3L444,412L448.7,408.7L457.7,399L461,393.3L461.7,391L461.7,386.7L462,386.3L461.7,382L462,381.3L456.7,376L432.7,355.3L424,341.3L421,333L415.7,320.7L411,292.3L410.7,223L411,222.7L411.3,161L412,154.7L412.7,136L413.7,127.7L413.3,126.7L413.7,126.3L414.3,106.7L414.7,106.3L415.3,95.3L417.3,86L418.3,83L423.3,72.7L425.3,70.3Z"/>
<path fill="#FFA600" d="M387.7,70.3L388,409.7L397,412L406.3,413.7L413,414L413.3,414.3L420.7,414L426.3,413L435.7,410L440.3,407.7L446,403.7L453.7,395.3L456,391.7L457.3,386L458,378.7L454.7,374.7L432.7,355.7L423.7,341L421.7,335L415.7,321L410.7,290.7L410.7,222.3L411,222L411.3,160.3L411.7,160L412.7,135.7L413.7,125.3L414,109.7L414.3,109.3L415,96L417.3,85L423,72.7L425,70.3Z"/>
<path fill="#FF8D00" d="M387.7,70.3L388,403.7L392.7,404.7L396,406L408,408.3L412,408.3L412.3,408.7L421,408.3L430.7,406L438.3,402.3L443,399L451,389.7L452.3,386.7L454.3,378L454,375L449.3,370.3L433,356.3L423.7,341.3L421.7,335.3L415.3,320.3L410.7,291L410.7,222L411,221.7L411.3,160L412,153.7L412.7,135.3L413.3,130.7L414.3,101.7L414.7,101.3L415,94.7L415.7,93L417,85.3L422.7,72.7L424.7,70.3Z"/>
<path fill="#FF7900" d="M387.7,70.3L388,398L394.3,399.3L397.3,400.7L400.7,401L403.3,402L409,403L413,403L413.3,403.3L419.7,403L428.3,401L436,397.3L439,395.3L447.7,385.7L448.7,383.7L451,375.7L450.7,372.7L444.7,366.7L433.3,357L431.7,355L423.3,341L421.7,335.7L415.3,320.7L410.7,291.7L410.7,221.7L411,221.3L411.3,159.3L412,152.7L412.3,137L413.3,128.7L414,104.3L414.3,104L414.7,95.3L417,84.3L421.3,74.3L424,70.3Z"/>
<path fill="#FF6C00" d="M387.7,70.3L388,394L390,394L396.3,395.7L397.3,396.3L410.7,399L417.3,399L427,396.7L432.7,394L437.3,390.7L444,382.7L446.7,374.3L446.3,370L445.7,368.7L442.7,365.3L432.7,356.7L430.7,354L423.3,341.3L420.3,332.7L415.3,321.3L410.7,292L410.7,228.7L410.3,228.3L410.7,179.7L411,179.3L411,161L411.7,154.7L412.3,136L413.3,125.7L413.7,106.3L414,106L414.3,96.3L416.7,84.3L422,72.3L423.7,70.3Z"/>
<path fill="#FF5E00" d="M387.7,70.3L388,389.7L389.7,389.7L399.7,392.7L407.7,394.3L417.3,394.7L425,392.7L430.3,390L434,387.3L440,380L441.7,375.3L441.7,372L442,371.7L441.7,365.7L437.7,361.3L432,356.3L423,341L421.3,335.7L415.3,321.7L410.3,290.7L410.3,222.3L410.7,222L411,160.3L411.7,154L412.3,135.7L413,131L413,122.7L413.3,122.3L413,120.7L413.3,120.3L413.3,109.7L413.7,109.3L414,97.3L416.3,84.7L420,75.7L423,70.3Z"/>
<path fill="#FF5000" d="M387.7,70.3L388,385L399.3,388.3L407,390L417,390.3L421,389.3L427,386.7L432.3,382.3L435.7,378L436.7,375.7L438,367.3L438,363L431.7,356.3L424,343.3L422,339L420,332.7L415.3,322L410.3,291.3L410.7,178.7L411,178.3L411,159.7L411.7,153.3L412.3,135L413,130L413,117.7L413.3,117.3L413,115.7L413.3,115.3L413.7,99L414,98.7L414,95L416,84.7L420.3,74L422.7,70.3Z"/>
<path fill="#FF4300" d="M387.7,70.3L388,380.3L397.7,383.7L408.3,386L416.7,386L420,385L425.3,382.3L429.3,378.7L432,374.7L434.3,364.3L434.3,360L431,356L424,343.7L415,321.3L410.3,292L410.3,221.3L410.7,221L410.3,180L410.7,179.7L410.7,161L411,160.7L412,136.3L412.3,136L412.7,125.7L413,125.3L412.7,123.7L413,123.3L413.3,101L413.7,100.7L413.7,95.7L415.7,84.7L420.7,72.3L422,70.3Z"/>
<path fill="#FF3600" d="M387.7,70.3L388,376L392.3,377.3L394.7,378.7L403,381L410,382.3L414.3,382.3L418,381.3L422,379.3L425.7,376.3L428.7,371.3L430.7,365L431.3,360L431,356.7L422.7,341.7L419.7,332.7L414.7,321L410.3,292.7L410.3,282L410,281.7L410.3,179L410.7,178.7L410.7,160.3L411.3,154L412,135.7L412.7,130.7L413.3,96.7L415.3,84.7L419.7,73.7L421.7,70.3Z"/>
<path fill="#FF2A00" d="M387.7,70.3L388,372.7L393.7,375L396.3,376.7L401.3,378.3L408.7,380L415.3,380L421.3,377.3L424.3,374.7L426.3,372L429,365.3L430,359.7L430,356L429.3,354L422.3,341.3L420,334L414.7,321.3L410.7,296L410.7,293.7L410,291.3L410.3,178.3L410.7,178L410.7,159.7L411,159.3L411.7,140.7L412,140.3L412,134.7L412.7,128.3L413,98L415,84.7L417,79L421,70.3Z"/>
<path fill="#FF1E00" d="M387.7,70.3L388,368.7L396,373.7L401,376L408.7,378L415,378L420.3,375.7L424.7,371.3L428,363.7L429,355.7L428,352L422.3,342L419.7,333.7L414.3,321L410,292.3L410,241.3L409.7,241L410,179.3L410.3,179L410.3,160.7L411,154.3L411.7,135.7L412.3,131L412.7,99.7L413,99.3L413,94.7L415,83.3L419,73.3L420.7,70.3Z"/>
<path fill="#FF1200" d="M387.7,70.3L388,363.7L397.7,371.7L402.7,374.3L408.7,376L415,376L419.3,374L423.7,369.7L426.7,363.3L427.7,358L427.3,351.7L422.3,342.7L419.7,334.3L414.3,321.7L409.7,291.3L410,178.3L410.3,178L410.3,159.3L410.7,159L411.7,134L412.3,128L412,127L412.3,125.3L412,124L412.3,122.7L412,121.3L412.3,120.3L412.3,100.7L412.7,100.3L412.7,94.7L414.7,83.3L420,70.3Z"/>
<path fill="#FF0600" d="M387.7,70.3L388,356.3L389.7,358L393.7,364L398,368.7L401,371L404.3,372.7L408.7,374L414.7,374L418.7,372L422.7,368L425.7,361.7L426.7,355.3L426.7,352L426,349.7L421.7,342L419.3,334.3L414,321.7L409.3,291L409.7,178.7L410,178.3L410,159.7L410.7,153.3L411.3,135L412,130L412,99.7L412.3,99.3L412.3,94.3L414,84L419.3,70.3Z"/>
</g>
<clipPath id="frameclip"><rect x="340" y="769.4" width="827" height="615"/></clipPath>
</defs>
<rect x="232" y="748" width="957" height="739" fill="#FDFDFD"/>
<g stroke="#7a7a7a" stroke-width="0.8">
<rect x="361.5" y="1002.7" width="362.3" height="155.8" fill="#00B0F0"/>
<path d="M361.5,1158.5 H491.6 V1002.7 H594.1 V1158.5 H723.8 V1182.7 H361.5 Z" fill="#FFC000"/>
<rect x="361.5" y="1182.7" width="362.3" height="77.5" fill="#DCEDF5"/>
<rect x="361.5" y="1260.2" width="362.3" height="52.3" fill="#EA7612"/>
<path d="M465.4,992.2 V984 A26.2,30.8 0 0 1 491.6,953.2 V992.2 Z" fill="#F400F4"/>
<path d="M620,992.2 V984 A25.9,30.8 0 0 0 594.1,953.2 V992.2 Z" fill="#F400F4"/>
<path d="M465.4,992.2 H620 V1002.7 H568.5 V1209.4 H517.1 V1002.7 H465.4 Z" fill="#0070C0"/>
<path d="M491.6,953.2 H594.1 V992.2 H558.1 V1198.4 H527.3 V992.2 H491.6 Z" fill="#00B050" stroke="#0A8A6A" stroke-width="1.6"/>
</g>
<path d="M440.2,1010.6 H519" stroke="#FF0000" stroke-width="4.2"/>
<path d="M455,1074.7 L472.5,1031" stroke="#000" stroke-width="3"/>
<path d="M477.8,1018.3 L477.6,1037.5 L464.5,1032.2 Z" fill="#000"/>
<text x="413" y="1108.6" font-family="'Liberation Sans', Arial, Helvetica, sans-serif" font-size="43.2" font-weight="normal" text-anchor="start" textLength="67.2" lengthAdjust="spacingAndGlyphs" fill="#111" stroke="#000" stroke-width="0.25" stroke-linejoin="round">Cut</text>
<text x="412.4" y="1152.2" font-family="'Liberation Sans', Arial, Helvetica, sans-serif" font-size="43.2" font-weight="normal" text-anchor="start" textLength="67.2" lengthAdjust="spacingAndGlyphs" fill="#111" stroke="#000" stroke-width="0.25" stroke-linejoin="round">line</text>
<path d="M340.0,1343.4 h12 M1167.0,1343.4 h-12 M340.0,1302.4 h6 M1167.0,1302.4 h-6 M340.0,1261.4 h12 M1167.0,1261.4 h-12 M340.0,1220.4 h6 M1167.0,1220.4 h-6 M340.0,1179.4 h12 M1167.0,1179.4 h-12 M340.0,1138.4 h6 M1167.0,1138.4 h-6 M340.0,1097.4 h12 M1167.0,1097.4 h-12 M340.0,1056.4 h6 M1167.0,1056.4 h-6 M340.0,1015.4 h12 M1167.0,1015.4 h-12 M340.0,974.4 h6 M1167.0,974.4 h-6 M340.0,933.4 h12 M1167.0,933.4 h-12 M340.0,892.4 h6 M1167.0,892.4 h-6 M340.0,851.4 h12 M1167.0,851.4 h-12 M340.0,810.4 h6 M1167.0,810.4 h-6 M340.0,769.4 h12 M1167.0,769.4 h-12 M340.0,1384.4 v-12 M546.8,1384.4 v-6 M753.5,1384.4 v-12 M960.2,1384.4 v-6 M1167.0,1384.4 v-12" stroke="#1a1a1a" stroke-width="2" fill="none"/>
<g clip-path="url(#frameclip)">
<polyline fill="none" stroke="#0000FF" stroke-width="2.8" points="327.6,1343.4 374.7,1343.4 420.2,1343.4 464.1,1343.4 507.1,1343.4 549.2,1343.4 590.6,1343.4 631.1,1343.4 670.8,1343.4 679.1,1343.4 687.3,1343.4 695.6,1343.4 703.9,1343.4 712.2,1343.4 720.4,1343.4 728.7,1343.4 737.0,1343.4 745.2,1343.4 753.5,1343.4 761.8,1343.4 770.0,1343.4 778.3,1343.4 786.6,1343.4 794.9,1343.4 803.1,1343.4 811.4,1343.4 819.7,1343.4 827.9,1343.4 836.2,1343.4 844.5,1343.4 852.7,1343.4 861.0,1343.4 869.3,1343.4 877.6,1343.4 885.8,1343.4 894.1,1343.4 902.4,1343.4 910.6,1343.4 918.9,1166.3 927.2,992.4 935.4,969.5 943.7,937.5 952.0,920.3 960.2,908.0 968.5,898.1 976.8,891.3 985.1,886.3 993.3,882.6 1001.6,879.3 1009.9,876.4 1018.1,873.5 1026.4,871.1 1034.7,868.6 1043.0,866.9 1051.2,865.2 1059.5,864.7 1067.8,864.2 1076.0,864.0 1084.3,863.9 1092.6,864.1 1100.8,864.3 1109.1,864.5 1117.4,865.9 1125.7,867.3 1133.9,868.6 1142.2,871.1 1150.5,873.5 1158.7,876.4 1167.0,879.3"/>
<path d="M327.6,1329.4 L339.7,1350.4 L315.4,1350.4 Z" fill="#fff" stroke="#0000FF" stroke-width="3.2" stroke-linejoin="miter"/>
<path d="M374.7,1329.4 L386.9,1350.4 L362.6,1350.4 Z" fill="#fff" stroke="#0000FF" stroke-width="3.2" stroke-linejoin="miter"/>
<path d="M420.2,1329.4 L432.4,1350.4 L408.1,1350.4 Z" fill="#fff" stroke="#0000FF" stroke-width="3.2" stroke-linejoin="miter"/>
<path d="M464.1,1329.4 L476.2,1350.4 L451.9,1350.4 Z" fill="#fff" stroke="#0000FF" stroke-width="3.2" stroke-linejoin="miter"/>
<path d="M507.1,1329.4 L519.2,1350.4 L494.9,1350.4 Z" fill="#fff" stroke="#0000FF" stroke-width="3.2" stroke-linejoin="miter"/>
<path d="M549.2,1329.4 L561.4,1350.4 L537.1,1350.4 Z" fill="#fff" stroke="#0000FF" stroke-width="3.2" stroke-linejoin="miter"/>
<path d="M590.6,1329.4 L602.7,1350.4 L578.4,1350.4 Z" fill="#fff" stroke="#0000FF" stroke-width="3.2" stroke-linejoin="miter"/>
<path d="M631.1,1329.4 L643.3,1350.4 L619.0,1350.4 Z" fill="#fff" stroke="#0000FF" stroke-width="3.2" stroke-linejoin="miter"/>
<path d="M670.8,1329.4 L682.9,1350.4 L658.6,1350.4 Z" fill="#fff" stroke="#0000FF" stroke-width="3.2" stroke-linejoin="miter"/>
<path d="M679.1,1329.4 L691.2,1350.4 L666.9,1350.4 Z" fill="#fff" stroke="#0000FF" stroke-width="3.2" stroke-linejoin="miter"/>
<path d="M687.3,1329.4 L699.5,1350.4 L675.2,1350.4 Z" fill="#fff" stroke="#0000FF" stroke-width="3.2" stroke-linejoin="miter"/>
<path d="M695.6,1329.4 L707.8,1350.4 L683.5,1350.4 Z" fill="#fff" stroke="#0000FF" stroke-width="3.2" stroke-linejoin="miter"/>
<path d="M703.9,1329.4 L716.0,1350.4 L691.7,1350.4 Z" fill="#fff" stroke="#0000FF" stroke-width="3.2" stroke-linejoin="miter"/>
<path d="M712.2,1329.4 L724.3,1350.4 L700.0,1350.4 Z" fill="#fff" stroke="#0000FF" stroke-width="3.2" stroke-linejoin="miter"/>
<path d="M720.4,1329.4 L732.6,1350.4 L708.3,1350.4 Z" fill="#fff" stroke="#0000FF" stroke-width="3.2" stroke-linejoin="miter"/>
<path d="M728.7,1329.4 L740.8,1350.4 L716.5,1350.4 Z" fill="#fff" stroke="#0000FF" stroke-width="3.2" stroke-linejoin="miter"/>
<path d="M737.0,1329.4 L749.1,1350.4 L724.8,1350.4 Z" fill="#fff" stroke="#0000FF" stroke-width="3.2" stroke-linejoin="miter"/>
<path d="M745.2,1329.4 L757.4,1350.4 L733.1,1350.4 Z" fill="#fff" stroke="#0000FF" stroke-width="3.2" stroke-linejoin="miter"/>
<path d="M753.5,1329.4 L765.6,1350.4 L741.4,1350.4 Z" fill="#fff" stroke="#0000FF" stroke-width="3.2" stroke-linejoin="miter"/>
<path d="M761.8,1329.4 L773.9,1350.4 L749.6,1350.4 Z" fill="#fff" stroke="#0000FF" stroke-width="3.2" stroke-linejoin="miter"/>
<path d="M770.0,1329.4 L782.2,1350.4 L757.9,1350.4 Z" fill="#fff" stroke="#0000FF" stroke-width="3.2" stroke-linejoin="miter"/>
<path d="M778.3,1329.4 L790.5,1350.4 L766.2,1350.4 Z" fill="#fff" stroke="#0000FF" stroke-width="3.2" stroke-linejoin="miter"/>
<path d="M786.6,1329.4 L798.7,1350.4 L774.4,1350.4 Z" fill="#fff" stroke="#0000FF" stroke-width="3.2" stroke-linejoin="miter"/>
<path d="M794.9,1329.4 L807.0,1350.4 L782.7,1350.4 Z" fill="#fff" stroke="#0000FF" stroke-width="3.2" stroke-linejoin="miter"/>
<path d="M803.1,1329.4 L815.3,1350.4 L791.0,1350.4 Z" fill="#fff" stroke="#0000FF" stroke-width="3.2" stroke-linejoin="miter"/>
<path d="M811.4,1329.4 L823.5,1350.4 L799.2,1350.4 Z" fill="#fff" stroke="#0000FF" stroke-width="3.2" stroke-linejoin="miter"/>
<path d="M819.7,1329.4 L831.8,1350.4 L807.5,1350.4 Z" fill="#fff" stroke="#0000FF" stroke-width="3.2" stroke-linejoin="miter"/>
<path d="M827.9,1329.4 L840.1,1350.4 L815.8,1350.4 Z" fill="#fff" stroke="#0000FF" stroke-width="3.2" stroke-linejoin="miter"/>
<path d="M836.2,1329.4 L848.4,1350.4 L824.1,1350.4 Z" fill="#fff" stroke="#0000FF" stroke-width="3.2" stroke-linejoin="miter"/>
<path d="M844.5,1329.4 L856.6,1350.4 L832.3,1350.4 Z" fill="#fff" stroke="#0000FF" stroke-width="3.2" stroke-linejoin="miter"/>
<path d="M852.7,1329.4 L864.9,1350.4 L840.6,1350.4 Z" fill="#fff" stroke="#0000FF" stroke-width="3.2" stroke-linejoin="miter"/>
<path d="M861.0,1329.4 L873.2,1350.4 L848.9,1350.4 Z" fill="#fff" stroke="#0000FF" stroke-width="3.2" stroke-linejoin="miter"/>
<path d="M869.3,1329.4 L881.4,1350.4 L857.1,1350.4 Z" fill="#fff" stroke="#0000FF" stroke-width="3.2" stroke-linejoin="miter"/>
<path d="M877.6,1329.4 L889.7,1350.4 L865.4,1350.4 Z" fill="#fff" stroke="#0000FF" stroke-width="3.2" stroke-linejoin="miter"/>
<path d="M885.8,1329.4 L898.0,1350.4 L873.7,1350.4 Z" fill="#fff" stroke="#0000FF" stroke-width="3.2" stroke-linejoin="miter"/>
<path d="M894.1,1329.4 L906.2,1350.4 L881.9,1350.4 Z" fill="#fff" stroke="#0000FF" stroke-width="3.2" stroke-linejoin="miter"/>
<path d="M902.4,1329.4 L914.5,1350.4 L890.2,1350.4 Z" fill="#fff" stroke="#0000FF" stroke-width="3.2" stroke-linejoin="miter"/>
<path d="M910.6,1329.4 L922.8,1350.4 L898.5,1350.4 Z" fill="#fff" stroke="#0000FF" stroke-width="3.2" stroke-linejoin="miter"/>
<path d="M918.9,1152.3 L931.0,1173.3 L906.8,1173.3 Z" fill="#fff" stroke="#0000FF" stroke-width="3.2" stroke-linejoin="miter"/>
<path d="M927.2,978.4 L939.3,999.5 L915.0,999.5 Z" fill="#fff" stroke="#0000FF" stroke-width="3.2" stroke-linejoin="miter"/>
<path d="M935.4,955.5 L947.6,976.5 L923.3,976.5 Z" fill="#fff" stroke="#0000FF" stroke-width="3.2" stroke-linejoin="miter"/>
<path d="M943.7,923.5 L955.9,944.5 L931.6,944.5 Z" fill="#fff" stroke="#0000FF" stroke-width="3.2" stroke-linejoin="miter"/>
<path d="M952.0,906.3 L964.1,927.3 L939.8,927.3 Z" fill="#fff" stroke="#0000FF" stroke-width="3.2" stroke-linejoin="miter"/>
<path d="M960.2,894.0 L972.4,915.0 L948.1,915.0 Z" fill="#fff" stroke="#0000FF" stroke-width="3.2" stroke-linejoin="miter"/>
<path d="M968.5,884.1 L980.7,905.2 L956.4,905.2 Z" fill="#fff" stroke="#0000FF" stroke-width="3.2" stroke-linejoin="miter"/>
<path d="M976.8,877.2 L988.9,898.3 L964.6,898.3 Z" fill="#fff" stroke="#0000FF" stroke-width="3.2" stroke-linejoin="miter"/>
<path d="M985.1,872.3 L997.2,893.3 L972.9,893.3 Z" fill="#fff" stroke="#0000FF" stroke-width="3.2" stroke-linejoin="miter"/>
<path d="M993.3,868.5 L1005.5,889.6 L981.2,889.6 Z" fill="#fff" stroke="#0000FF" stroke-width="3.2" stroke-linejoin="miter"/>
<path d="M1001.6,865.3 L1013.8,886.3 L989.5,886.3 Z" fill="#fff" stroke="#0000FF" stroke-width="3.2" stroke-linejoin="miter"/>
<path d="M1009.9,862.4 L1022.0,883.4 L997.7,883.4 Z" fill="#fff" stroke="#0000FF" stroke-width="3.2" stroke-linejoin="miter"/>
<path d="M1018.1,859.5 L1030.3,880.6 L1006.0,880.6 Z" fill="#fff" stroke="#0000FF" stroke-width="3.2" stroke-linejoin="miter"/>
<path d="M1026.4,857.1 L1038.6,878.1 L1014.3,878.1 Z" fill="#fff" stroke="#0000FF" stroke-width="3.2" stroke-linejoin="miter"/>
<path d="M1034.7,854.6 L1046.8,875.6 L1022.5,875.6 Z" fill="#fff" stroke="#0000FF" stroke-width="3.2" stroke-linejoin="miter"/>
<path d="M1043.0,852.9 L1055.1,873.9 L1030.8,873.9 Z" fill="#fff" stroke="#0000FF" stroke-width="3.2" stroke-linejoin="miter"/>
<path d="M1051.2,851.1 L1063.4,872.2 L1039.1,872.2 Z" fill="#fff" stroke="#0000FF" stroke-width="3.2" stroke-linejoin="miter"/>
<path d="M1059.5,850.7 L1071.6,871.7 L1047.3,871.7 Z" fill="#fff" stroke="#0000FF" stroke-width="3.2" stroke-linejoin="miter"/>
<path d="M1067.8,850.2 L1079.9,871.2 L1055.6,871.2 Z" fill="#fff" stroke="#0000FF" stroke-width="3.2" stroke-linejoin="miter"/>
<path d="M1076.0,850.0 L1088.2,871.0 L1063.9,871.0 Z" fill="#fff" stroke="#0000FF" stroke-width="3.2" stroke-linejoin="miter"/>
<path d="M1084.3,849.8 L1096.5,870.9 L1072.2,870.9 Z" fill="#fff" stroke="#0000FF" stroke-width="3.2" stroke-linejoin="miter"/>
<path d="M1092.6,850.1 L1104.7,871.1 L1080.4,871.1 Z" fill="#fff" stroke="#0000FF" stroke-width="3.2" stroke-linejoin="miter"/>
<path d="M1100.8,850.3 L1113.0,871.3 L1088.7,871.3 Z" fill="#fff" stroke="#0000FF" stroke-width="3.2" stroke-linejoin="miter"/>
<path d="M1109.1,850.5 L1121.3,871.5 L1097.0,871.5 Z" fill="#fff" stroke="#0000FF" stroke-width="3.2" stroke-linejoin="miter"/>
<path d="M1117.4,851.9 L1129.5,872.9 L1105.2,872.9 Z" fill="#fff" stroke="#0000FF" stroke-width="3.2" stroke-linejoin="miter"/>
<path d="M1125.7,853.2 L1137.8,874.3 L1113.5,874.3 Z" fill="#fff" stroke="#0000FF" stroke-width="3.2" stroke-linejoin="miter"/>
<path d="M1133.9,854.6 L1146.1,875.6 L1121.8,875.6 Z" fill="#fff" stroke="#0000FF" stroke-width="3.2" stroke-linejoin="miter"/>
<path d="M1142.2,857.1 L1154.3,878.1 L1130.0,878.1 Z" fill="#fff" stroke="#0000FF" stroke-width="3.2" stroke-linejoin="miter"/>
<path d="M1150.5,859.5 L1162.6,880.6 L1138.3,880.6 Z" fill="#fff" stroke="#0000FF" stroke-width="3.2" stroke-linejoin="miter"/>
<path d="M1158.7,862.4 L1170.9,883.4 L1146.6,883.4 Z" fill="#fff" stroke="#0000FF" stroke-width="3.2" stroke-linejoin="miter"/>
<path d="M1167.0,865.3 L1179.2,886.3 L1154.8,886.3 Z" fill="#fff" stroke="#0000FF" stroke-width="3.2" stroke-linejoin="miter"/>
<polyline fill="none" stroke="#FF0000" stroke-width="2.8" points="327.6,1343.4 374.7,1343.4 420.2,1343.4 464.1,1343.4 507.1,1343.4 549.2,1343.4 590.6,1343.4 631.1,1343.4 670.8,1343.4 679.1,1343.4 687.3,1343.4 695.6,1343.4 703.9,1343.4 712.2,1343.4 720.4,1343.4 728.7,1343.4 737.0,1343.4 745.2,1343.4 753.5,1159.7 761.8,979.3 770.0,962.1 778.3,938.3 786.6,921.9 794.9,908.0 803.1,897.3 811.4,890.8 819.7,885.0 827.9,880.9 836.2,877.6 844.5,874.8 852.7,871.9 861.0,870.3 869.3,868.6 877.6,867.0 885.8,866.1 894.1,865.2 902.4,864.4 910.6,863.9 918.9,863.4 927.2,863.4 935.4,863.4 943.7,863.4 952.0,864.1 960.2,864.8 968.5,865.8 976.8,866.7 985.1,867.6 993.3,868.5 1001.6,869.4 1009.9,870.1 1018.1,870.8 1026.4,871.5 1034.7,872.7 1043.0,874.4 1051.2,876.5 1059.5,878.6 1067.8,880.8 1076.0,882.9 1084.3,885.0 1092.6,887.6 1100.8,890.2 1109.1,892.8 1117.4,895.4 1125.7,898.0 1133.9,901.3 1142.2,904.6 1150.5,907.9 1158.7,911.2 1167.0,914.5"/>
<circle cx="327.6" cy="1343.4" r="10.2" fill="#fff" stroke="#FF0000" stroke-width="3.3"/>
<circle cx="374.7" cy="1343.4" r="10.2" fill="#fff" stroke="#FF0000" stroke-width="3.3"/>
<circle cx="420.2" cy="1343.4" r="10.2" fill="#fff" stroke="#FF0000" stroke-width="3.3"/>
<circle cx="464.1" cy="1343.4" r="10.2" fill="#fff" stroke="#FF0000" stroke-width="3.3"/>
<circle cx="507.1" cy="1343.4" r="10.2" fill="#fff" stroke="#FF0000" stroke-width="3.3"/>
<circle cx="549.2" cy="1343.4" r="10.2" fill="#fff" stroke="#FF0000" stroke-width="3.3"/>
<circle cx="590.6" cy="1343.4" r="10.2" fill="#fff" stroke="#FF0000" stroke-width="3.3"/>
<circle cx="631.1" cy="1343.4" r="10.2" fill="#fff" stroke="#FF0000" stroke-width="3.3"/>
<circle cx="670.8" cy="1343.4" r="10.2" fill="#fff" stroke="#FF0000" stroke-width="3.3"/>
<circle cx="679.1" cy="1343.4" r="10.2" fill="#fff" stroke="#FF0000" stroke-width="3.3"/>
<circle cx="687.3" cy="1343.4" r="10.2" fill="#fff" stroke="#FF0000" stroke-width="3.3"/>
<circle cx="695.6" cy="1343.4" r="10.2" fill="#fff" stroke="#FF0000" stroke-width="3.3"/>
<circle cx="703.9" cy="1343.4" r="10.2" fill="#fff" stroke="#FF0000" stroke-width="3.3"/>
<circle cx="712.2" cy="1343.4" r="10.2" fill="#fff" stroke="#FF0000" stroke-width="3.3"/>
<circle cx="720.4" cy="1343.4" r="10.2" fill="#fff" stroke="#FF0000" stroke-width="3.3"/>
<circle cx="728.7" cy="1343.4" r="10.2" fill="#fff" stroke="#FF0000" stroke-width="3.3"/>
<circle cx="737.0" cy="1343.4" r="10.2" fill="#fff" stroke="#FF0000" stroke-width="3.3"/>
<circle cx="745.2" cy="1343.4" r="10.2" fill="#fff" stroke="#FF0000" stroke-width="3.3"/>
<circle cx="753.5" cy="1159.7" r="10.2" fill="#fff" stroke="#FF0000" stroke-width="3.3"/>
<circle cx="761.8" cy="979.3" r="10.2" fill="#fff" stroke="#FF0000" stroke-width="3.3"/>
<circle cx="770.0" cy="962.1" r="10.2" fill="#fff" stroke="#FF0000" stroke-width="3.3"/>
<circle cx="778.3" cy="938.3" r="10.2" fill="#fff" stroke="#FF0000" stroke-width="3.3"/>
<circle cx="786.6" cy="921.9" r="10.2" fill="#fff" stroke="#FF0000" stroke-width="3.3"/>
<circle cx="794.9" cy="908.0" r="10.2" fill="#fff" stroke="#FF0000" stroke-width="3.3"/>
<circle cx="803.1" cy="897.3" r="10.2" fill="#fff" stroke="#FF0000" stroke-width="3.3"/>
<circle cx="811.4" cy="890.8" r="10.2" fill="#fff" stroke="#FF0000" stroke-width="3.3"/>
<circle cx="819.7" cy="885.0" r="10.2" fill="#fff" stroke="#FF0000" stroke-width="3.3"/>
<circle cx="827.9" cy="880.9" r="10.2" fill="#fff" stroke="#FF0000" stroke-width="3.3"/>
<circle cx="836.2" cy="877.6" r="10.2" fill="#fff" stroke="#FF0000" stroke-width="3.3"/>
<circle cx="844.5" cy="874.8" r="10.2" fill="#fff" stroke="#FF0000" stroke-width="3.3"/>
<circle cx="852.7" cy="871.9" r="10.2" fill="#fff" stroke="#FF0000" stroke-width="3.3"/>
<circle cx="861.0" cy="870.3" r="10.2" fill="#fff" stroke="#FF0000" stroke-width="3.3"/>
<circle cx="869.3" cy="868.6" r="10.2" fill="#fff" stroke="#FF0000" stroke-width="3.3"/>
<circle cx="877.6" cy="867.0" r="10.2" fill="#fff" stroke="#FF0000" stroke-width="3.3"/>
<circle cx="885.8" cy="866.1" r="10.2" fill="#fff" stroke="#FF0000" stroke-width="3.3"/>
<circle cx="894.1" cy="865.2" r="10.2" fill="#fff" stroke="#FF0000" stroke-width="3.3"/>
<circle cx="902.4" cy="864.4" r="10.2" fill="#fff" stroke="#FF0000" stroke-width="3.3"/>
<circle cx="910.6" cy="863.9" r="10.2" fill="#fff" stroke="#FF0000" stroke-width="3.3"/>
<circle cx="918.9" cy="863.4" r="10.2" fill="#fff" stroke="#FF0000" stroke-width="3.3"/>
<circle cx="927.2" cy="863.4" r="10.2" fill="#fff" stroke="#FF0000" stroke-width="3.3"/>
<circle cx="935.4" cy="863.4" r="10.2" fill="#fff" stroke="#FF0000" stroke-width="3.3"/>
<circle cx="943.7" cy="863.4" r="10.2" fill="#fff" stroke="#FF0000" stroke-width="3.3"/>
<circle cx="952.0" cy="864.1" r="10.2" fill="#fff" stroke="#FF0000" stroke-width="3.3"/>
<circle cx="960.2" cy="864.8" r="10.2" fill="#fff" stroke="#FF0000" stroke-width="3.3"/>
<circle cx="968.5" cy="865.8" r="10.2" fill="#fff" stroke="#FF0000" stroke-width="3.3"/>
<circle cx="976.8" cy="866.7" r="10.2" fill="#fff" stroke="#FF0000" stroke-width="3.3"/>
<circle cx="985.1" cy="867.6" r="10.2" fill="#fff" stroke="#FF0000" stroke-width="3.3"/>
<circle cx="993.3" cy="868.5" r="10.2" fill="#fff" stroke="#FF0000" stroke-width="3.3"/>
<circle cx="1001.6" cy="869.4" r="10.2" fill="#fff" stroke="#FF0000" stroke-width="3.3"/>
<circle cx="1009.9" cy="870.1" r="10.2" fill="#fff" stroke="#FF0000" stroke-width="3.3"/>
<circle cx="1018.1" cy="870.8" r="10.2" fill="#fff" stroke="#FF0000" stroke-width="3.3"/>
<circle cx="1026.4" cy="871.5" r="10.2" fill="#fff" stroke="#FF0000" stroke-width="3.3"/>
<circle cx="1034.7" cy="872.7" r="10.2" fill="#fff" stroke="#FF0000" stroke-width="3.3"/>
<circle cx="1043.0" cy="874.4" r="10.2" fill="#fff" stroke="#FF0000" stroke-width="3.3"/>
<circle cx="1051.2" cy="876.5" r="10.2" fill="#fff" stroke="#FF0000" stroke-width="3.3"/>
<circle cx="1059.5" cy="878.6" r="10.2" fill="#fff" stroke="#FF0000" stroke-width="3.3"/>
<circle cx="1067.8" cy="880.8" r="10.2" fill="#fff" stroke="#FF0000" stroke-width="3.3"/>
<circle cx="1076.0" cy="882.9" r="10.2" fill="#fff" stroke="#FF0000" stroke-width="3.3"/>
<circle cx="1084.3" cy="885.0" r="10.2" fill="#fff" stroke="#FF0000" stroke-width="3.3"/>
<circle cx="1092.6" cy="887.6" r="10.2" fill="#fff" stroke="#FF0000" stroke-width="3.3"/>
<circle cx="1100.8" cy="890.2" r="10.2" fill="#fff" stroke="#FF0000" stroke-width="3.3"/>
<circle cx="1109.1" cy="892.8" r="10.2" fill="#fff" stroke="#FF0000" stroke-width="3.3"/>
<circle cx="1117.4" cy="895.4" r="10.2" fill="#fff" stroke="#FF0000" stroke-width="3.3"/>
<circle cx="1125.7" cy="898.0" r="10.2" fill="#fff" stroke="#FF0000" stroke-width="3.3"/>
<circle cx="1133.9" cy="901.3" r="10.2" fill="#fff" stroke="#FF0000" stroke-width="3.3"/>
<circle cx="1142.2" cy="904.6" r="10.2" fill="#fff" stroke="#FF0000" stroke-width="3.3"/>
<circle cx="1150.5" cy="907.9" r="10.2" fill="#fff" stroke="#FF0000" stroke-width="3.3"/>
<circle cx="1158.7" cy="911.2" r="10.2" fill="#fff" stroke="#FF0000" stroke-width="3.3"/>
<circle cx="1167.0" cy="914.5" r="10.2" fill="#fff" stroke="#FF0000" stroke-width="3.3"/>
</g>
<rect x="340.0" y="769.4" width="827.0" height="615.0000000000001" fill="none" stroke="#262626" stroke-width="2.4"/>
<text x="326.7" y="1354.0" font-family="'Liberation Sans', Arial, Helvetica, sans-serif" font-size="36.5" font-weight="normal" text-anchor="end" textLength="20.0" lengthAdjust="spacingAndGlyphs" fill="#111" stroke="#000" stroke-width="0.25" stroke-linejoin="round">0</text>
<text x="326.7" y="1272.0" font-family="'Liberation Sans', Arial, Helvetica, sans-serif" font-size="36.5" font-weight="normal" text-anchor="end" textLength="20.0" lengthAdjust="spacingAndGlyphs" fill="#111" stroke="#000" stroke-width="0.25" stroke-linejoin="round">5</text>
<text x="326.7" y="1190.0" font-family="'Liberation Sans', Arial, Helvetica, sans-serif" font-size="36.5" font-weight="normal" text-anchor="end" textLength="40.2" lengthAdjust="spacingAndGlyphs" fill="#111" stroke="#000" stroke-width="0.25" stroke-linejoin="round">10</text>
<text x="326.7" y="1108.0" font-family="'Liberation Sans', Arial, Helvetica, sans-serif" font-size="36.5" font-weight="normal" text-anchor="end" textLength="40.2" lengthAdjust="spacingAndGlyphs" fill="#111" stroke="#000" stroke-width="0.25" stroke-linejoin="round">15</text>
<text x="326.7" y="1026.0" font-family="'Liberation Sans', Arial, Helvetica, sans-serif" font-size="36.5" font-weight="normal" text-anchor="end" textLength="40.2" lengthAdjust="spacingAndGlyphs" fill="#111" stroke="#000" stroke-width="0.25" stroke-linejoin="round">20</text>
<text x="326.7" y="944.0000000000001" font-family="'Liberation Sans', Arial, Helvetica, sans-serif" font-size="36.5" font-weight="normal" text-anchor="end" textLength="40.2" lengthAdjust="spacingAndGlyphs" fill="#111" stroke="#000" stroke-width="0.25" stroke-linejoin="round">25</text>
<text x="326.7" y="862.0000000000001" font-family="'Liberation Sans', Arial, Helvetica, sans-serif" font-size="36.5" font-weight="normal" text-anchor="end" textLength="40.2" lengthAdjust="spacingAndGlyphs" fill="#111" stroke="#000" stroke-width="0.25" stroke-linejoin="round">30</text>
<text x="326.7" y="780.0" font-family="'Liberation Sans', Arial, Helvetica, sans-serif" font-size="36.5" font-weight="normal" text-anchor="end" textLength="40.2" lengthAdjust="spacingAndGlyphs" fill="#111" stroke="#000" stroke-width="0.25" stroke-linejoin="round">35</text>
<text x="340.0" y="1427.2" font-family="'Liberation Sans', Arial, Helvetica, sans-serif" font-size="36.5" font-weight="normal" text-anchor="middle" textLength="40.8" lengthAdjust="spacingAndGlyphs" fill="#111" stroke="#000" stroke-width="0.25" stroke-linejoin="round">20</text>
<text x="753.5" y="1427.2" font-family="'Liberation Sans', Arial, Helvetica, sans-serif" font-size="36.5" font-weight="normal" text-anchor="middle" textLength="40.8" lengthAdjust="spacingAndGlyphs" fill="#111" stroke="#000" stroke-width="0.25" stroke-linejoin="round">25</text>
<text x="1167.0" y="1427.2" font-family="'Liberation Sans', Arial, Helvetica, sans-serif" font-size="36.5" font-weight="normal" text-anchor="middle" textLength="40.8" lengthAdjust="spacingAndGlyphs" fill="#111" stroke="#000" stroke-width="0.25" stroke-linejoin="round">30</text>
<text x="627" y="1478.2" font-family="'Liberation Sans', Arial, Helvetica, sans-serif" font-size="40.3" font-weight="normal" text-anchor="start" textLength="254.6" lengthAdjust="spacingAndGlyphs" fill="#111" stroke="#000" stroke-width="0.25" stroke-linejoin="round">Distance (nm)</text>
<text transform="translate(268.4,1194.3) rotate(-90)" font-family="'Liberation Sans', Arial, Helvetica, sans-serif" font-size="40" textLength="233" lengthAdjust="spacingAndGlyphs" fill="#111" stroke="#111" stroke-width="0.25">log(BBT rate)</text>
<text x="485.7" y="841.5" font-family="'Liberation Sans', Arial, Helvetica, sans-serif" font-size="36.5" textLength="167.5" lengthAdjust="spacingAndGlyphs" fill="#111" stroke="#111" stroke-width="0.25">V<tspan font-size="22" dy="9.4">d</tspan><tspan dy="-9.4">=V</tspan><tspan font-size="22" dy="9.4">g</tspan><tspan dy="-9.4">=1V</tspan></text>
<path d="M368.3,876.8 H453.5" stroke="#0000FF" stroke-width="2.5"/>
<path d="M411.0,863.3 L423.1,884.3 L398.9,884.3 Z" fill="#fff" stroke="#0000FF" stroke-width="3.2" stroke-linejoin="miter"/>
<path d="M368.3,922.4 H453.5" stroke="#FF0000" stroke-width="2.5"/>
<circle cx="411.0" cy="922.4" r="10.2" fill="#fff" stroke="#FF0000" stroke-width="3.3"/>
<text x="464.7" y="888.4" font-family="'Liberation Sans', Arial, Helvetica, sans-serif" font-size="36.5" font-weight="normal" text-anchor="start" textLength="223.2" lengthAdjust="spacingAndGlyphs" fill="#111" stroke="#000" stroke-width="0.25" stroke-linejoin="round">Overlap=0nm</text>
<text x="464.7" y="934.6" font-family="'Liberation Sans', Arial, Helvetica, sans-serif" font-size="36.5" font-weight="normal" text-anchor="start" textLength="223.2" lengthAdjust="spacingAndGlyphs" fill="#111" stroke="#000" stroke-width="0.25" stroke-linejoin="round">Overlap=5nm</text>
<g transform="translate(0,0)">
<rect x="17.2" y="50.3" width="648.5999999999999" height="660" fill="#E500F7"/>
<rect x="17.2" y="50.3" width="648.5999999999999" height="2.6" fill="#A23AC6"/>
<rect x="17.2" y="67.6" width="648.5999999999999" height="1.2" fill="#C818E0"/>
<rect x="17.2" y="68.7" width="648.5999999999999" height="2.0" fill="#9422B0"/>
<rect x="17.2" y="70.7" width="648.5999999999999" height="1.0" fill="#D410EA"/>
<use href="#plumeaR"/>
<use href="#plumeaL" transform="translate(682.6,0) scale(-1,1)"/>
<path d="M294.9,70.5 V435 H388 V70.5" fill="none" stroke="#5A1450" stroke-width="1.3"/>
<rect x="311.6" y="50.5" width="57.599999999999966" height="366.5" fill="url(#dither)" stroke="#7478EC" stroke-width="1.7"/>
<rect x="0" y="69" width="18.5" height="145.8" fill="#000"/>
<rect x="664.2" y="69" width="18.9" height="145.8" fill="#000"/>
<rect x="16.3" y="707.8" width="650.7" height="19.2" fill="#000"/>
<rect x="37.5" y="369.5" width="163.5" height="315.5" fill="#fff" stroke="#000" stroke-width="2"/>
<text x="119.9" y="401" font-family="'Liberation Sans', Arial, Helvetica, sans-serif" font-size="20.8" font-weight="normal" text-anchor="middle" textLength="150.2" lengthAdjust="spacingAndGlyphs"  stroke="#000" stroke-width="0.55" stroke-linejoin="round">Nonlocal BBT e-</text>
<text x="119.9" y="425.2" font-family="'Liberation Sans', Arial, Helvetica, sans-serif" font-size="20.8" font-weight="normal" text-anchor="middle" textLength="144.6" lengthAdjust="spacingAndGlyphs"  stroke="#000" stroke-width="0.55" stroke-linejoin="round">Tunnelling Rate</text>
<text x="119.9" y="450.2" font-family="'Liberation Sans', Arial, Helvetica, sans-serif" font-size="20.8" text-anchor="middle" stroke="#000" stroke-width="0.55">(/cm<tspan font-size="13" dy="-7">3</tspan><tspan dy="7"> sec)</tspan></text>
<rect x="53.5" y="487.4" width="39.3" height="183" fill="#fff"/>
<rect x="53.5" y="487.4" width="39.3" height="10.1" fill="#FF2000"/>
<rect x="53.5" y="497.5" width="39.3" height="11.4" fill="#FF6A00"/>
<rect x="53.5" y="508.9" width="39.3" height="10.4" fill="#FF9800"/>
<rect x="53.5" y="520.2" width="39.3" height="9.6" fill="#FFC800"/>
<rect x="53.5" y="529.8" width="39.3" height="9.8" fill="#FFFF00"/>
<rect x="53.5" y="541.9" width="39.3" height="9.7" fill="#B4FF00"/>
<rect x="53.5" y="552.4" width="39.3" height="4.4" fill="#80FF00"/>
<rect x="53.5" y="557.9" width="39.3" height="4.4" fill="#30FF00"/>
<rect x="53.5" y="562.6" width="39.3" height="10.5" fill="#00FF80"/>
<rect x="53.5" y="573.4" width="39.3" height="5.1" fill="#00FFC0"/>
<rect x="53.5" y="578.7" width="39.3" height="14.8" fill="#00FFFF"/>
<rect x="53.5" y="594.1" width="39.3" height="5.7" fill="#00E4F4"/>
<rect x="53.5" y="599.8" width="39.3" height="11.0" fill="#00B8F0"/>
<rect x="53.5" y="611.8" width="39.3" height="4.2" fill="#0090E0"/>
<rect x="53.5" y="617.1" width="39.3" height="9.8" fill="#0070E0"/>
<rect x="53.5" y="627.9" width="39.3" height="4.4" fill="#0000FF"/>
<rect x="53.5" y="633.3" width="39.3" height="4.4" fill="#6000E0"/>
<rect x="53.5" y="638.5" width="39.3" height="4.4" fill="#8000E0"/>
<rect x="53.5" y="643.5" width="39.3" height="4.3" fill="#9000C0"/>
<rect x="53.5" y="648.8" width="39.3" height="5.0" fill="#B000E0"/>
<rect x="53.5" y="654.2" width="39.3" height="9.0" fill="#D000F0"/>
<rect x="53.5" y="663.2" width="39.3" height="1.3" fill="#FFB0C0"/>
<rect x="53.5" y="664.9" width="39.3" height="5.5" fill="#F000F0"/>
<text x="117.8" y="508" font-family="'Liberation Sans', Arial, Helvetica, sans-serif" font-size="20" font-weight="normal" text-anchor="start" textLength="55.8" lengthAdjust="spacingAndGlyphs"  stroke="#000" stroke-width="0.55" stroke-linejoin="round">1e+30</text>
<text x="117.8" y="557" font-family="'Liberation Sans', Arial, Helvetica, sans-serif" font-size="20" font-weight="normal" text-anchor="start" textLength="55.8" lengthAdjust="spacingAndGlyphs"  stroke="#000" stroke-width="0.55" stroke-linejoin="round">1e+20</text>
<text x="117.8" y="606.8" font-family="'Liberation Sans', Arial, Helvetica, sans-serif" font-size="20" font-weight="normal" text-anchor="start" textLength="55.8" lengthAdjust="spacingAndGlyphs"  stroke="#000" stroke-width="0.55" stroke-linejoin="round">1e+10</text>
<text x="124" y="656.5" font-family="'Liberation Sans', Arial, Helvetica, sans-serif" font-size="20" font-weight="normal" text-anchor="start" textLength="42.3" lengthAdjust="spacingAndGlyphs"  stroke="#000" stroke-width="0.55" stroke-linejoin="round">1e+1</text>
<text x="30.5" y="92.7" font-family="'Liberation Sans', Arial, Helvetica, sans-serif" font-size="27.7" font-weight="normal" text-anchor="start" textLength="87.8" lengthAdjust="spacingAndGlyphs"  stroke="#000" stroke-width="0.55" stroke-linejoin="round">Source</text>
<text x="564.2" y="92.8" font-family="'Liberation Sans', Arial, Helvetica, sans-serif" font-size="27.7" font-weight="normal" text-anchor="start" textLength="87.8" lengthAdjust="spacingAndGlyphs"  stroke="#000" stroke-width="0.55" stroke-linejoin="round">Source</text>
<text x="312.8" y="85.6" font-family="'Liberation Sans', Arial, Helvetica, sans-serif" font-size="27.6" font-weight="normal" text-anchor="start" textLength="59.8" lengthAdjust="spacingAndGlyphs"  stroke="#000" stroke-width="0.55" stroke-linejoin="round">Gate</text>
<text x="310.2" y="702.1" font-family="'Liberation Sans', Arial, Helvetica, sans-serif" font-size="27.7" font-weight="normal" text-anchor="start" textLength="66.4" lengthAdjust="spacingAndGlyphs"  stroke="#000" stroke-width="0.55" stroke-linejoin="round">Drain</text>
</g>
<g transform="translate(736.3,0)">
<rect x="16.7" y="50.3" width="649.0999999999999" height="660" fill="#E500F7"/>
<rect x="16.7" y="50.3" width="649.0999999999999" height="1.6" fill="#8E8A90"/>
<rect x="16.7" y="51.9" width="649.0999999999999" height="1.2" fill="#D030E8"/>
<rect x="16.7" y="67.6" width="649.0999999999999" height="1.2" fill="#C818E0"/>
<rect x="16.7" y="68.7" width="649.0999999999999" height="2.0" fill="#9422B0"/>
<rect x="16.7" y="70.7" width="649.0999999999999" height="1.0" fill="#D410EA"/>
<use href="#plumebR"/>
<use href="#plumebL" transform="translate(682.6,0) scale(-1,1)"/>
<path d="M294.9,70.5 V435 H388 V70.5" fill="none" stroke="#5A1450" stroke-width="1.3"/>
<rect x="312.2" y="50.5" width="58.0" height="366.5" fill="url(#dither)" stroke="#7478EC" stroke-width="1.7"/>
<rect x="0" y="69" width="18.5" height="145.8" fill="#000"/>
<rect x="664.2" y="69" width="18.9" height="145.8" fill="#000"/>
<rect x="16.3" y="707.8" width="650.7" height="19.2" fill="#000"/>
<rect x="248.5" y="42.3" width="185.5" height="9" fill="#000"/>
<rect x="37.5" y="369.5" width="163.5" height="315.5" fill="#fff" stroke="#000" stroke-width="2"/>
<text x="119.9" y="401" font-family="'Liberation Sans', Arial, Helvetica, sans-serif" font-size="20.8" font-weight="normal" text-anchor="middle" textLength="150.2" lengthAdjust="spacingAndGlyphs"  stroke="#000" stroke-width="0.55" stroke-linejoin="round">Nonlocal BBT e-</text>
<text x="119.9" y="425.2" font-family="'Liberation Sans', Arial, Helvetica, sans-serif" font-size="20.8" font-weight="normal" text-anchor="middle" textLength="144.6" lengthAdjust="spacingAndGlyphs"  stroke="#000" stroke-width="0.55" stroke-linejoin="round">Tunnelling Rate</text>
<text x="119.9" y="450.2" font-family="'Liberation Sans', Arial, Helvetica, sans-serif" font-size="20.8" text-anchor="middle" stroke="#000" stroke-width="0.55">(/cm<tspan font-size="13" dy="-7">3</tspan><tspan dy="7"> sec)</tspan></text>
<rect x="53.5" y="487.4" width="39.3" height="183" fill="#fff"/>
<rect x="53.5" y="487.4" width="39.3" height="10.1" fill="#FF2000"/>
<rect x="53.5" y="497.5" width="39.3" height="11.4" fill="#FF6A00"/>
<rect x="53.5" y="508.9" width="39.3" height="10.4" fill="#FF9800"/>
<rect x="53.5" y="520.2" width="39.3" height="9.6" fill="#FFC800"/>
<rect x="53.5" y="529.8" width="39.3" height="9.8" fill="#FFFF00"/>
<rect x="53.5" y="541.9" width="39.3" height="9.7" fill="#B4FF00"/>
<rect x="53.5" y="552.4" width="39.3" height="4.4" fill="#80FF00"/>
<rect x="53.5" y="557.9" width="39.3" height="4.4" fill="#30FF00"/>
<rect x="53.5" y="562.6" width="39.3" height="10.5" fill="#00FF80"/>
<rect x="53.5" y="573.4" width="39.3" height="5.1" fill="#00FFC0"/>
<rect x="53.5" y="578.7" width="39.3" height="14.8" fill="#00FFFF"/>
<rect x="53.5" y="594.1" width="39.3" height="5.7" fill="#00E4F4"/>
<rect x="53.5" y="599.8" width="39.3" height="11.0" fill="#00B8F0"/>
<rect x="53.5" y="611.8" width="39.3" height="4.2" fill="#0090E0"/>
<rect x="53.5" y="617.1" width="39.3" height="9.8" fill="#0070E0"/>
<rect x="53.5" y="627.9" width="39.3" height="4.4" fill="#0000FF"/>
<rect x="53.5" y="633.3" width="39.3" height="4.4" fill="#6000E0"/>
<rect x="53.5" y="638.5" width="39.3" height="4.4" fill="#8000E0"/>
<rect x="53.5" y="643.5" width="39.3" height="4.3" fill="#9000C0"/>
<rect x="53.5" y="648.8" width="39.3" height="5.0" fill="#B000E0"/>
<rect x="53.5" y="654.2" width="39.3" height="9.0" fill="#D000F0"/>
<rect x="53.5" y="663.2" width="39.3" height="1.3" fill="#FFB0C0"/>
<rect x="53.5" y="664.9" width="39.3" height="5.5" fill="#F000F0"/>
<text x="117.8" y="508" font-family="'Liberation Sans', Arial, Helvetica, sans-serif" font-size="20" font-weight="normal" text-anchor="start" textLength="55.8" lengthAdjust="spacingAndGlyphs"  stroke="#000" stroke-width="0.55" stroke-linejoin="round">1e+30</text>
<text x="117.8" y="557" font-family="'Liberation Sans', Arial, Helvetica, sans-serif" font-size="20" font-weight="normal" text-anchor="start" textLength="55.8" lengthAdjust="spacingAndGlyphs"  stroke="#000" stroke-width="0.55" stroke-linejoin="round">1e+20</text>
<text x="117.8" y="606.8" font-family="'Liberation Sans', Arial, Helvetica, sans-serif" font-size="20" font-weight="normal" text-anchor="start" textLength="55.8" lengthAdjust="spacingAndGlyphs"  stroke="#000" stroke-width="0.55" stroke-linejoin="round">1e+10</text>
<text x="124" y="656.5" font-family="'Liberation Sans', Arial, Helvetica, sans-serif" font-size="20" font-weight="normal" text-anchor="start" textLength="42.3" lengthAdjust="spacingAndGlyphs"  stroke="#000" stroke-width="0.55" stroke-linejoin="round">1e+1</text>
<text x="30.5" y="92.7" font-family="'Liberation Sans', Arial, Helvetica, sans-serif" font-size="27.7" font-weight="normal" text-anchor="start" textLength="87.8" lengthAdjust="spacingAndGlyphs"  stroke="#000" stroke-width="0.55" stroke-linejoin="round">Source</text>
<text x="564.2" y="92.8" font-family="'Liberation Sans', Arial, Helvetica, sans-serif" font-size="27.7" font-weight="normal" text-anchor="start" textLength="87.8" lengthAdjust="spacingAndGlyphs"  stroke="#000" stroke-width="0.55" stroke-linejoin="round">Source</text>
<text x="312.2" y="85.6" font-family="'Liberation Sans', Arial, Helvetica, sans-serif" font-size="27.6" font-weight="normal" text-anchor="start" textLength="59.8" lengthAdjust="spacingAndGlyphs"  stroke="#000" stroke-width="0.55" stroke-linejoin="round">Gate</text>
<text x="310.2" y="702.1" font-family="'Liberation Sans', Arial, Helvetica, sans-serif" font-size="27.7" font-weight="normal" text-anchor="start" textLength="66.4" lengthAdjust="spacingAndGlyphs"  stroke="#000" stroke-width="0.55" stroke-linejoin="round">Drain</text>
</g>
<text x="32.8" y="34.4" font-family="'Liberation Serif', 'Times New Roman', serif" font-size="50" font-weight="bold" text-anchor="start" textLength="58.6" lengthAdjust="spacingAndGlyphs" >(a)</text>
<text x="180.6" y="40.4" font-family="'Liberation Sans', Arial, Helvetica, sans-serif" font-size="27.6" font-weight="normal" text-anchor="start" textLength="198" lengthAdjust="spacingAndGlyphs"  stroke="#000" stroke-width="0.55" stroke-linejoin="round">Without Overlap</text>
<text x="769.7" y="35.3" font-family="'Liberation Serif', 'Times New Roman', serif" font-size="50" font-weight="bold" text-anchor="start" textLength="61.6" lengthAdjust="spacingAndGlyphs" >(b)</text>
<text x="876.1" y="37.0" font-family="'Liberation Sans', Arial, Helvetica, sans-serif" font-size="27.6" font-weight="normal" text-anchor="start" textLength="220.8" lengthAdjust="spacingAndGlyphs"  stroke="#000" stroke-width="0.55" stroke-linejoin="round">With 5nm Overlap</text>
</svg></body></html>
